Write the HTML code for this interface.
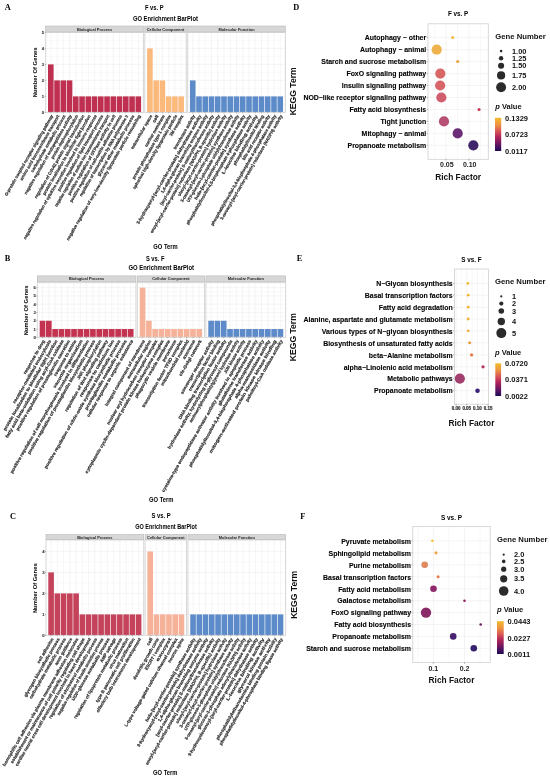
<!DOCTYPE html>
<html><head><meta charset="utf-8"><style>
html,body{margin:0;padding:0;background:#fff;}
svg{display:block;-webkit-font-smoothing:antialiased;will-change:transform;font-family:"Liberation Sans", sans-serif;}
</style></head><body>
<svg width="550" height="779" viewBox="0 0 550 779">
<defs><linearGradient id="cg" x1="0" y1="0" x2="0" y2="1">
<stop offset="0" stop-color="#f3ba2c"/><stop offset="0.2" stop-color="#ee9640"/><stop offset="0.4" stop-color="#d85656"/>
<stop offset="0.56" stop-color="#b6285a"/><stop offset="0.72" stop-color="#82185f"/><stop offset="0.86" stop-color="#4c1262"/><stop offset="1" stop-color="#1e0a52"/>
</linearGradient></defs>
<rect width="550" height="779" fill="#fff"/>
<text x="4.80" y="10.30" font-size="8.3" text-anchor="start" font-weight="bold" fill="#000" font-family='Liberation Serif, serif'>A</text>
<text x="154.20" y="9.60" font-size="6.6" text-anchor="middle" font-weight="bold" fill="#000" textLength="18.60" lengthAdjust="spacingAndGlyphs">F vs. P</text>
<text x="165.40" y="20.90" font-size="6.6" text-anchor="middle" font-weight="bold" fill="#000" textLength="65.00" lengthAdjust="spacingAndGlyphs">GO Enrichment BarPlot</text>
<rect x="45.70" y="32.30" width="97.70" height="80.10" fill="#fff"/>
<line x1="45.70" x2="143.40" y1="104.40" y2="104.40" stroke="#f5f5f5" stroke-width="0.5"/>
<line x1="45.70" x2="143.40" y1="96.40" y2="96.40" stroke="#ebebeb" stroke-width="0.5"/>
<line x1="45.70" x2="143.40" y1="88.40" y2="88.40" stroke="#f5f5f5" stroke-width="0.5"/>
<line x1="45.70" x2="143.40" y1="80.40" y2="80.40" stroke="#ebebeb" stroke-width="0.5"/>
<line x1="45.70" x2="143.40" y1="72.40" y2="72.40" stroke="#f5f5f5" stroke-width="0.5"/>
<line x1="45.70" x2="143.40" y1="64.40" y2="64.40" stroke="#ebebeb" stroke-width="0.5"/>
<line x1="45.70" x2="143.40" y1="56.40" y2="56.40" stroke="#f5f5f5" stroke-width="0.5"/>
<line x1="45.70" x2="143.40" y1="48.40" y2="48.40" stroke="#ebebeb" stroke-width="0.5"/>
<line x1="45.70" x2="143.40" y1="40.40" y2="40.40" stroke="#f5f5f5" stroke-width="0.5"/>
<line x1="45.70" x2="143.40" y1="32.40" y2="32.40" stroke="#ebebeb" stroke-width="0.5"/>
<line x1="50.80" x2="50.80" y1="32.30" y2="112.40" stroke="#ebebeb" stroke-width="0.5"/>
<line x1="57.05" x2="57.05" y1="32.30" y2="112.40" stroke="#ebebeb" stroke-width="0.5"/>
<line x1="63.30" x2="63.30" y1="32.30" y2="112.40" stroke="#ebebeb" stroke-width="0.5"/>
<line x1="69.55" x2="69.55" y1="32.30" y2="112.40" stroke="#ebebeb" stroke-width="0.5"/>
<line x1="75.80" x2="75.80" y1="32.30" y2="112.40" stroke="#ebebeb" stroke-width="0.5"/>
<line x1="82.05" x2="82.05" y1="32.30" y2="112.40" stroke="#ebebeb" stroke-width="0.5"/>
<line x1="88.30" x2="88.30" y1="32.30" y2="112.40" stroke="#ebebeb" stroke-width="0.5"/>
<line x1="94.55" x2="94.55" y1="32.30" y2="112.40" stroke="#ebebeb" stroke-width="0.5"/>
<line x1="100.80" x2="100.80" y1="32.30" y2="112.40" stroke="#ebebeb" stroke-width="0.5"/>
<line x1="107.05" x2="107.05" y1="32.30" y2="112.40" stroke="#ebebeb" stroke-width="0.5"/>
<line x1="113.30" x2="113.30" y1="32.30" y2="112.40" stroke="#ebebeb" stroke-width="0.5"/>
<line x1="119.55" x2="119.55" y1="32.30" y2="112.40" stroke="#ebebeb" stroke-width="0.5"/>
<line x1="125.80" x2="125.80" y1="32.30" y2="112.40" stroke="#ebebeb" stroke-width="0.5"/>
<line x1="132.05" x2="132.05" y1="32.30" y2="112.40" stroke="#ebebeb" stroke-width="0.5"/>
<line x1="138.30" x2="138.30" y1="32.30" y2="112.40" stroke="#ebebeb" stroke-width="0.5"/>
<rect x="48.00" y="64.40" width="5.60" height="48.00" fill="#bf2f4f"/>
<rect x="54.25" y="80.40" width="5.60" height="32.00" fill="#bf2f4f"/>
<rect x="60.50" y="80.40" width="5.60" height="32.00" fill="#bf2f4f"/>
<rect x="66.75" y="80.40" width="5.60" height="32.00" fill="#bf2f4f"/>
<rect x="73.00" y="96.40" width="5.60" height="16.00" fill="#bf2f4f"/>
<rect x="79.25" y="96.40" width="5.60" height="16.00" fill="#bf2f4f"/>
<rect x="85.50" y="96.40" width="5.60" height="16.00" fill="#bf2f4f"/>
<rect x="91.75" y="96.40" width="5.60" height="16.00" fill="#bf2f4f"/>
<rect x="98.00" y="96.40" width="5.60" height="16.00" fill="#bf2f4f"/>
<rect x="104.25" y="96.40" width="5.60" height="16.00" fill="#bf2f4f"/>
<rect x="110.50" y="96.40" width="5.60" height="16.00" fill="#bf2f4f"/>
<rect x="116.75" y="96.40" width="5.60" height="16.00" fill="#bf2f4f"/>
<rect x="123.00" y="96.40" width="5.60" height="16.00" fill="#bf2f4f"/>
<rect x="129.25" y="96.40" width="5.60" height="16.00" fill="#bf2f4f"/>
<rect x="135.50" y="96.40" width="5.60" height="16.00" fill="#bf2f4f"/>
<rect x="45.70" y="32.30" width="97.70" height="80.10" fill="none" stroke="#d6d6d6" stroke-width="1.0"/>
<rect x="45.70" y="26.00" width="97.70" height="6.00" fill="#d7d7d7" stroke="#b8b8b8" stroke-width="0.6"/>
<text x="94.55" y="30.55" font-size="4.2" text-anchor="middle" font-weight="bold" fill="#222" textLength="35.34" lengthAdjust="spacingAndGlyphs">Biological Process</text>
<line x1="50.80" x2="50.80" y1="112.40" y2="113.40" stroke="#444" stroke-width="0.4"/>
<text x="53.30" y="116.00" font-size="4.27" text-anchor="end" font-weight="bold" fill="#333" textLength="92.70" lengthAdjust="spacingAndGlyphs" transform="rotate(-60 53.30 116.00)" stroke="#333" stroke-width="0.22">G-protein coupled receptor signaling pathway</text>
<line x1="57.05" x2="57.05" y1="112.40" y2="113.40" stroke="#444" stroke-width="0.4"/>
<text x="59.55" y="116.00" font-size="4.27" text-anchor="end" font-weight="bold" fill="#333" textLength="74.80" lengthAdjust="spacingAndGlyphs" transform="rotate(-60 59.55 116.00)" stroke="#333" stroke-width="0.22">amino acid transmembrane transport</text>
<line x1="63.30" x2="63.30" y1="112.40" y2="113.40" stroke="#444" stroke-width="0.4"/>
<text x="65.80" y="116.00" font-size="4.27" text-anchor="end" font-weight="bold" fill="#333" textLength="65.40" lengthAdjust="spacingAndGlyphs" transform="rotate(-60 65.80 116.00)" stroke="#333" stroke-width="0.22">carbohydrate metabolic process</text>
<line x1="69.55" x2="69.55" y1="112.40" y2="113.40" stroke="#444" stroke-width="0.4"/>
<text x="72.05" y="116.00" font-size="4.27" text-anchor="end" font-weight="bold" fill="#333" textLength="90.90" lengthAdjust="spacingAndGlyphs" transform="rotate(-60 72.05 116.00)" stroke="#333" stroke-width="0.22">negative regulation of endopeptidase activity</text>
<line x1="75.80" x2="75.80" y1="112.40" y2="113.40" stroke="#444" stroke-width="0.4"/>
<text x="78.30" y="116.00" font-size="4.27" text-anchor="end" font-weight="bold" fill="#333" textLength="50.00" lengthAdjust="spacingAndGlyphs" transform="rotate(-60 78.30 116.00)" stroke="#333" stroke-width="0.22">protein dephosphorylation</text>
<line x1="82.05" x2="82.05" y1="112.40" y2="113.40" stroke="#444" stroke-width="0.4"/>
<text x="84.55" y="116.00" font-size="4.27" text-anchor="end" font-weight="bold" fill="#333" textLength="95.60" lengthAdjust="spacingAndGlyphs" transform="rotate(-60 84.55 116.00)" stroke="#333" stroke-width="0.22">regulation of Cdc42 protein signal transduction</text>
<line x1="88.30" x2="88.30" y1="112.40" y2="113.40" stroke="#444" stroke-width="0.4"/>
<text x="90.80" y="116.00" font-size="4.27" text-anchor="end" font-weight="bold" fill="#333" textLength="91.80" lengthAdjust="spacingAndGlyphs" transform="rotate(-60 90.80 116.00)" stroke="#333" stroke-width="0.22">protein localization to bicellular tight junction</text>
<line x1="94.55" x2="94.55" y1="112.40" y2="113.40" stroke="#444" stroke-width="0.4"/>
<text x="97.05" y="116.00" font-size="4.27" text-anchor="end" font-weight="bold" fill="#333" textLength="142.80" lengthAdjust="spacingAndGlyphs" transform="rotate(-60 97.05 116.00)" stroke="#333" stroke-width="0.22">negative regulation of cytokine secretion involved in immune response</text>
<line x1="100.80" x2="100.80" y1="112.40" y2="113.40" stroke="#444" stroke-width="0.4"/>
<text x="103.30" y="116.00" font-size="4.27" text-anchor="end" font-weight="bold" fill="#333" textLength="87.20" lengthAdjust="spacingAndGlyphs" transform="rotate(-60 103.30 116.00)" stroke="#333" stroke-width="0.22">positive regulation of lipid transport process</text>
<line x1="107.05" x2="107.05" y1="112.40" y2="113.40" stroke="#444" stroke-width="0.4"/>
<text x="109.55" y="116.00" font-size="4.27" text-anchor="end" font-weight="bold" fill="#333" textLength="105.20" lengthAdjust="spacingAndGlyphs" transform="rotate(-60 109.55 116.00)" stroke="#333" stroke-width="0.22">negative regulation of sodium ion transmembrane transport</text>
<line x1="113.30" x2="113.30" y1="112.40" y2="113.40" stroke="#444" stroke-width="0.4"/>
<text x="115.80" y="116.00" font-size="4.27" text-anchor="end" font-weight="bold" fill="#333" textLength="91.80" lengthAdjust="spacingAndGlyphs" transform="rotate(-60 115.80 116.00)" stroke="#333" stroke-width="0.22">positive regulation of GTPase activity in cell</text>
<line x1="119.55" x2="119.55" y1="112.40" y2="113.40" stroke="#444" stroke-width="0.4"/>
<text x="122.05" y="116.00" font-size="4.27" text-anchor="end" font-weight="bold" fill="#333" textLength="100.00" lengthAdjust="spacingAndGlyphs" transform="rotate(-60 122.05 116.00)" stroke="#333" stroke-width="0.22">positive regulation of cell-matrix adhesion process</text>
<line x1="125.80" x2="125.80" y1="112.40" y2="113.40" stroke="#444" stroke-width="0.4"/>
<text x="128.30" y="116.00" font-size="4.27" text-anchor="end" font-weight="bold" fill="#333" textLength="93.30" lengthAdjust="spacingAndGlyphs" transform="rotate(-60 128.30 116.00)" stroke="#333" stroke-width="0.22">regulation of transcription by RNA polymerase II</text>
<line x1="132.05" x2="132.05" y1="112.40" y2="113.40" stroke="#444" stroke-width="0.4"/>
<text x="134.55" y="116.00" font-size="4.27" text-anchor="end" font-weight="bold" fill="#333" textLength="69.90" lengthAdjust="spacingAndGlyphs" transform="rotate(-60 134.55 116.00)" stroke="#333" stroke-width="0.22">glycerol ether metabolic process</text>
<line x1="138.30" x2="138.30" y1="112.40" y2="113.40" stroke="#444" stroke-width="0.4"/>
<text x="140.80" y="116.00" font-size="4.27" text-anchor="end" font-weight="bold" fill="#333" textLength="144.00" lengthAdjust="spacingAndGlyphs" transform="rotate(-60 140.80 116.00)" stroke="#333" stroke-width="0.22">negative regulation of very-low-density lipoprotein particle remodeling</text>
<rect x="144.80" y="32.30" width="41.45" height="80.10" fill="#fff"/>
<line x1="144.80" x2="186.25" y1="104.40" y2="104.40" stroke="#f5f5f5" stroke-width="0.5"/>
<line x1="144.80" x2="186.25" y1="96.40" y2="96.40" stroke="#ebebeb" stroke-width="0.5"/>
<line x1="144.80" x2="186.25" y1="88.40" y2="88.40" stroke="#f5f5f5" stroke-width="0.5"/>
<line x1="144.80" x2="186.25" y1="80.40" y2="80.40" stroke="#ebebeb" stroke-width="0.5"/>
<line x1="144.80" x2="186.25" y1="72.40" y2="72.40" stroke="#f5f5f5" stroke-width="0.5"/>
<line x1="144.80" x2="186.25" y1="64.40" y2="64.40" stroke="#ebebeb" stroke-width="0.5"/>
<line x1="144.80" x2="186.25" y1="56.40" y2="56.40" stroke="#f5f5f5" stroke-width="0.5"/>
<line x1="144.80" x2="186.25" y1="48.40" y2="48.40" stroke="#ebebeb" stroke-width="0.5"/>
<line x1="144.80" x2="186.25" y1="40.40" y2="40.40" stroke="#f5f5f5" stroke-width="0.5"/>
<line x1="144.80" x2="186.25" y1="32.40" y2="32.40" stroke="#ebebeb" stroke-width="0.5"/>
<line x1="149.90" x2="149.90" y1="32.30" y2="112.40" stroke="#ebebeb" stroke-width="0.5"/>
<line x1="156.15" x2="156.15" y1="32.30" y2="112.40" stroke="#ebebeb" stroke-width="0.5"/>
<line x1="162.40" x2="162.40" y1="32.30" y2="112.40" stroke="#ebebeb" stroke-width="0.5"/>
<line x1="168.65" x2="168.65" y1="32.30" y2="112.40" stroke="#ebebeb" stroke-width="0.5"/>
<line x1="174.90" x2="174.90" y1="32.30" y2="112.40" stroke="#ebebeb" stroke-width="0.5"/>
<line x1="181.15" x2="181.15" y1="32.30" y2="112.40" stroke="#ebebeb" stroke-width="0.5"/>
<rect x="147.10" y="48.40" width="5.60" height="64.00" fill="#fcb97c"/>
<rect x="153.35" y="80.40" width="5.60" height="32.00" fill="#fcb97c"/>
<rect x="159.60" y="80.40" width="5.60" height="32.00" fill="#fcb97c"/>
<rect x="165.85" y="96.40" width="5.60" height="16.00" fill="#fcb97c"/>
<rect x="172.10" y="96.40" width="5.60" height="16.00" fill="#fcb97c"/>
<rect x="178.35" y="96.40" width="5.60" height="16.00" fill="#fcb97c"/>
<rect x="144.80" y="32.30" width="41.45" height="80.10" fill="none" stroke="#d6d6d6" stroke-width="1.0"/>
<rect x="144.80" y="26.00" width="41.45" height="6.00" fill="#d7d7d7" stroke="#b8b8b8" stroke-width="0.6"/>
<text x="165.53" y="30.55" font-size="4.2" text-anchor="middle" font-weight="bold" fill="#222" textLength="37.52" lengthAdjust="spacingAndGlyphs">Cellular Component</text>
<line x1="149.90" x2="149.90" y1="112.40" y2="113.40" stroke="#444" stroke-width="0.4"/>
<text x="152.40" y="116.00" font-size="4.27" text-anchor="end" font-weight="bold" fill="#333" textLength="38.70" lengthAdjust="spacingAndGlyphs" transform="rotate(-60 152.40 116.00)" stroke="#333" stroke-width="0.22">extracellular space</text>
<line x1="156.15" x2="156.15" y1="112.40" y2="113.40" stroke="#444" stroke-width="0.4"/>
<text x="158.65" y="116.00" font-size="4.27" text-anchor="end" font-weight="bold" fill="#333" textLength="8.00" lengthAdjust="spacingAndGlyphs" transform="rotate(-60 158.65 116.00)" stroke="#333" stroke-width="0.22">cell</text>
<line x1="162.40" x2="162.40" y1="112.40" y2="113.40" stroke="#444" stroke-width="0.4"/>
<text x="164.90" y="116.00" font-size="4.27" text-anchor="end" font-weight="bold" fill="#333" textLength="36.00" lengthAdjust="spacingAndGlyphs" transform="rotate(-60 164.90 116.00)" stroke="#333" stroke-width="0.22">nuclear membrane</text>
<line x1="168.65" x2="168.65" y1="112.40" y2="113.40" stroke="#444" stroke-width="0.4"/>
<text x="171.15" y="116.00" font-size="4.27" text-anchor="end" font-weight="bold" fill="#333" textLength="73.30" lengthAdjust="spacingAndGlyphs" transform="rotate(-60 171.15 116.00)" stroke="#333" stroke-width="0.22">protein phosphatase type 1 complex</text>
<line x1="174.90" x2="174.90" y1="112.40" y2="113.40" stroke="#444" stroke-width="0.4"/>
<text x="177.40" y="116.00" font-size="4.27" text-anchor="end" font-weight="bold" fill="#333" textLength="84.90" lengthAdjust="spacingAndGlyphs" transform="rotate(-60 177.40 116.00)" stroke="#333" stroke-width="0.22">spherical high-density lipoprotein particle</text>
<line x1="181.15" x2="181.15" y1="112.40" y2="113.40" stroke="#444" stroke-width="0.4"/>
<text x="183.65" y="116.00" font-size="4.27" text-anchor="end" font-weight="bold" fill="#333" textLength="23.70" lengthAdjust="spacingAndGlyphs" transform="rotate(-60 183.65 116.00)" stroke="#333" stroke-width="0.22">3M complex</text>
<rect x="187.65" y="32.30" width="97.70" height="80.10" fill="#fff"/>
<line x1="187.65" x2="285.35" y1="104.40" y2="104.40" stroke="#f5f5f5" stroke-width="0.5"/>
<line x1="187.65" x2="285.35" y1="96.40" y2="96.40" stroke="#ebebeb" stroke-width="0.5"/>
<line x1="187.65" x2="285.35" y1="88.40" y2="88.40" stroke="#f5f5f5" stroke-width="0.5"/>
<line x1="187.65" x2="285.35" y1="80.40" y2="80.40" stroke="#ebebeb" stroke-width="0.5"/>
<line x1="187.65" x2="285.35" y1="72.40" y2="72.40" stroke="#f5f5f5" stroke-width="0.5"/>
<line x1="187.65" x2="285.35" y1="64.40" y2="64.40" stroke="#ebebeb" stroke-width="0.5"/>
<line x1="187.65" x2="285.35" y1="56.40" y2="56.40" stroke="#f5f5f5" stroke-width="0.5"/>
<line x1="187.65" x2="285.35" y1="48.40" y2="48.40" stroke="#ebebeb" stroke-width="0.5"/>
<line x1="187.65" x2="285.35" y1="40.40" y2="40.40" stroke="#f5f5f5" stroke-width="0.5"/>
<line x1="187.65" x2="285.35" y1="32.40" y2="32.40" stroke="#ebebeb" stroke-width="0.5"/>
<line x1="192.75" x2="192.75" y1="32.30" y2="112.40" stroke="#ebebeb" stroke-width="0.5"/>
<line x1="199.00" x2="199.00" y1="32.30" y2="112.40" stroke="#ebebeb" stroke-width="0.5"/>
<line x1="205.25" x2="205.25" y1="32.30" y2="112.40" stroke="#ebebeb" stroke-width="0.5"/>
<line x1="211.50" x2="211.50" y1="32.30" y2="112.40" stroke="#ebebeb" stroke-width="0.5"/>
<line x1="217.75" x2="217.75" y1="32.30" y2="112.40" stroke="#ebebeb" stroke-width="0.5"/>
<line x1="224.00" x2="224.00" y1="32.30" y2="112.40" stroke="#ebebeb" stroke-width="0.5"/>
<line x1="230.25" x2="230.25" y1="32.30" y2="112.40" stroke="#ebebeb" stroke-width="0.5"/>
<line x1="236.50" x2="236.50" y1="32.30" y2="112.40" stroke="#ebebeb" stroke-width="0.5"/>
<line x1="242.75" x2="242.75" y1="32.30" y2="112.40" stroke="#ebebeb" stroke-width="0.5"/>
<line x1="249.00" x2="249.00" y1="32.30" y2="112.40" stroke="#ebebeb" stroke-width="0.5"/>
<line x1="255.25" x2="255.25" y1="32.30" y2="112.40" stroke="#ebebeb" stroke-width="0.5"/>
<line x1="261.50" x2="261.50" y1="32.30" y2="112.40" stroke="#ebebeb" stroke-width="0.5"/>
<line x1="267.75" x2="267.75" y1="32.30" y2="112.40" stroke="#ebebeb" stroke-width="0.5"/>
<line x1="274.00" x2="274.00" y1="32.30" y2="112.40" stroke="#ebebeb" stroke-width="0.5"/>
<line x1="280.25" x2="280.25" y1="32.30" y2="112.40" stroke="#ebebeb" stroke-width="0.5"/>
<rect x="189.95" y="80.40" width="5.60" height="32.00" fill="#5d8bc9"/>
<rect x="196.20" y="96.40" width="5.60" height="16.00" fill="#5d8bc9"/>
<rect x="202.45" y="96.40" width="5.60" height="16.00" fill="#5d8bc9"/>
<rect x="208.70" y="96.40" width="5.60" height="16.00" fill="#5d8bc9"/>
<rect x="214.95" y="96.40" width="5.60" height="16.00" fill="#5d8bc9"/>
<rect x="221.20" y="96.40" width="5.60" height="16.00" fill="#5d8bc9"/>
<rect x="227.45" y="96.40" width="5.60" height="16.00" fill="#5d8bc9"/>
<rect x="233.70" y="96.40" width="5.60" height="16.00" fill="#5d8bc9"/>
<rect x="239.95" y="96.40" width="5.60" height="16.00" fill="#5d8bc9"/>
<rect x="246.20" y="96.40" width="5.60" height="16.00" fill="#5d8bc9"/>
<rect x="252.45" y="96.40" width="5.60" height="16.00" fill="#5d8bc9"/>
<rect x="258.70" y="96.40" width="5.60" height="16.00" fill="#5d8bc9"/>
<rect x="264.95" y="96.40" width="5.60" height="16.00" fill="#5d8bc9"/>
<rect x="271.20" y="96.40" width="5.60" height="16.00" fill="#5d8bc9"/>
<rect x="277.45" y="96.40" width="5.60" height="16.00" fill="#5d8bc9"/>
<rect x="187.65" y="32.30" width="97.70" height="80.10" fill="none" stroke="#d6d6d6" stroke-width="1.0"/>
<rect x="187.65" y="26.00" width="97.70" height="6.00" fill="#d7d7d7" stroke="#b8b8b8" stroke-width="0.6"/>
<text x="236.50" y="30.55" font-size="4.2" text-anchor="middle" font-weight="bold" fill="#222" textLength="36.21" lengthAdjust="spacingAndGlyphs">Molecular Function</text>
<line x1="192.75" x2="192.75" y1="112.40" y2="113.40" stroke="#444" stroke-width="0.4"/>
<text x="195.25" y="116.00" font-size="4.27" text-anchor="end" font-weight="bold" fill="#333" textLength="38.90" lengthAdjust="spacingAndGlyphs" transform="rotate(-60 195.25 116.00)" stroke="#333" stroke-width="0.22">transferase activity</text>
<line x1="199.00" x2="199.00" y1="112.40" y2="113.40" stroke="#444" stroke-width="0.4"/>
<text x="201.50" y="116.00" font-size="4.27" text-anchor="end" font-weight="bold" fill="#333" textLength="125.30" lengthAdjust="spacingAndGlyphs" transform="rotate(-60 201.50 116.00)" stroke="#333" stroke-width="0.22">3-hydroxyacyl-[acyl-carrier-protein] dehydratase activity</text>
<line x1="205.25" x2="205.25" y1="112.40" y2="113.40" stroke="#444" stroke-width="0.4"/>
<text x="207.75" y="116.00" font-size="4.27" text-anchor="end" font-weight="bold" fill="#333" textLength="89.50" lengthAdjust="spacingAndGlyphs" transform="rotate(-60 207.75 116.00)" stroke="#333" stroke-width="0.22">1,4-alpha-glucan branching enzyme activity</text>
<line x1="211.50" x2="211.50" y1="112.40" y2="113.40" stroke="#444" stroke-width="0.4"/>
<text x="214.00" y="116.00" font-size="4.27" text-anchor="end" font-weight="bold" fill="#333" textLength="103.40" lengthAdjust="spacingAndGlyphs" transform="rotate(-60 214.00 116.00)" stroke="#333" stroke-width="0.22">[acyl-carrier-protein] S-malonyltransferase activity</text>
<line x1="217.75" x2="217.75" y1="112.40" y2="113.40" stroke="#444" stroke-width="0.4"/>
<text x="220.25" y="116.00" font-size="4.27" text-anchor="end" font-weight="bold" fill="#333" textLength="135.70" lengthAdjust="spacingAndGlyphs" transform="rotate(-60 220.25 116.00)" stroke="#333" stroke-width="0.22">enoyl-[acyl-carrier-protein] reductase (NADPH, B-specific) activity</text>
<line x1="224.00" x2="224.00" y1="112.40" y2="113.40" stroke="#444" stroke-width="0.4"/>
<text x="226.50" y="116.00" font-size="4.27" text-anchor="end" font-weight="bold" fill="#333" textLength="93.00" lengthAdjust="spacingAndGlyphs" transform="rotate(-60 226.50 116.00)" stroke="#333" stroke-width="0.22">oleoyl-[acyl-carrier-protein] hydrolase activity</text>
<line x1="230.25" x2="230.25" y1="112.40" y2="113.40" stroke="#444" stroke-width="0.4"/>
<text x="232.75" y="116.00" font-size="4.27" text-anchor="end" font-weight="bold" fill="#333" textLength="100.00" lengthAdjust="spacingAndGlyphs" transform="rotate(-60 232.75 116.00)" stroke="#333" stroke-width="0.22">3-oxoacyl-[acyl-carrier-protein] synthase activity</text>
<line x1="236.50" x2="236.50" y1="112.40" y2="113.40" stroke="#444" stroke-width="0.4"/>
<text x="239.00" y="116.00" font-size="4.27" text-anchor="end" font-weight="bold" fill="#333" textLength="100.00" lengthAdjust="spacingAndGlyphs" transform="rotate(-60 239.00 116.00)" stroke="#333" stroke-width="0.22">UTP-glucose-1-phosphate uridylyltransferase activity</text>
<line x1="242.75" x2="242.75" y1="112.40" y2="113.40" stroke="#444" stroke-width="0.4"/>
<text x="245.25" y="116.00" font-size="4.27" text-anchor="end" font-weight="bold" fill="#333" textLength="97.00" lengthAdjust="spacingAndGlyphs" transform="rotate(-60 245.25 116.00)" stroke="#333" stroke-width="0.22">holo-[acyl-carrier-protein] synthase activity</text>
<line x1="249.00" x2="249.00" y1="112.40" y2="113.40" stroke="#444" stroke-width="0.4"/>
<text x="251.50" y="116.00" font-size="4.27" text-anchor="end" font-weight="bold" fill="#333" textLength="125.90" lengthAdjust="spacingAndGlyphs" transform="rotate(-60 251.50 116.00)" stroke="#333" stroke-width="0.22">phosphatidylinositol-4,5-bisphosphate 4-phosphatase activity</text>
<line x1="255.25" x2="255.25" y1="112.40" y2="113.40" stroke="#444" stroke-width="0.4"/>
<text x="257.75" y="116.00" font-size="4.27" text-anchor="end" font-weight="bold" fill="#333" textLength="67.50" lengthAdjust="spacingAndGlyphs" transform="rotate(-60 257.75 116.00)" stroke="#333" stroke-width="0.22">L-leucine binding activity</text>
<line x1="261.50" x2="261.50" y1="112.40" y2="113.40" stroke="#444" stroke-width="0.4"/>
<text x="264.00" y="116.00" font-size="4.27" text-anchor="end" font-weight="bold" fill="#333" textLength="57.20" lengthAdjust="spacingAndGlyphs" transform="rotate(-60 264.00 116.00)" stroke="#333" stroke-width="0.22">phosphatidylinositol binding</text>
<line x1="267.75" x2="267.75" y1="112.40" y2="113.40" stroke="#444" stroke-width="0.4"/>
<text x="270.25" y="116.00" font-size="4.27" text-anchor="end" font-weight="bold" fill="#333" textLength="51.50" lengthAdjust="spacingAndGlyphs" transform="rotate(-60 270.25 116.00)" stroke="#333" stroke-width="0.22">bile acid receptor activity</text>
<line x1="274.00" x2="274.00" y1="112.40" y2="113.40" stroke="#444" stroke-width="0.4"/>
<text x="276.50" y="116.00" font-size="4.27" text-anchor="end" font-weight="bold" fill="#333" textLength="127.10" lengthAdjust="spacingAndGlyphs" transform="rotate(-60 276.50 116.00)" stroke="#333" stroke-width="0.22">phosphatidylinositol-3,4-bisphosphate 4-phosphatase activity</text>
<line x1="280.25" x2="280.25" y1="112.40" y2="113.40" stroke="#444" stroke-width="0.4"/>
<text x="282.75" y="116.00" font-size="4.27" text-anchor="end" font-weight="bold" fill="#333" textLength="120.40" lengthAdjust="spacingAndGlyphs" transform="rotate(-60 282.75 116.00)" stroke="#333" stroke-width="0.22">3-oxoacyl-[acyl-carrier-protein] reductase (NADPH) activity</text>
<text x="44.20" y="113.90" font-size="4.2" text-anchor="end" font-weight="bold" fill="#333" stroke="#333" stroke-width="0.1">0</text>
<line x1="44.70" x2="45.70" y1="112.40" y2="112.40" stroke="#444" stroke-width="0.4"/>
<text x="44.20" y="97.90" font-size="4.2" text-anchor="end" font-weight="bold" fill="#333" stroke="#333" stroke-width="0.1">1</text>
<line x1="44.70" x2="45.70" y1="96.40" y2="96.40" stroke="#444" stroke-width="0.4"/>
<text x="44.20" y="81.90" font-size="4.2" text-anchor="end" font-weight="bold" fill="#333" stroke="#333" stroke-width="0.1">2</text>
<line x1="44.70" x2="45.70" y1="80.40" y2="80.40" stroke="#444" stroke-width="0.4"/>
<text x="44.20" y="65.90" font-size="4.2" text-anchor="end" font-weight="bold" fill="#333" stroke="#333" stroke-width="0.1">3</text>
<line x1="44.70" x2="45.70" y1="64.40" y2="64.40" stroke="#444" stroke-width="0.4"/>
<text x="44.20" y="49.90" font-size="4.2" text-anchor="end" font-weight="bold" fill="#333" stroke="#333" stroke-width="0.1">4</text>
<line x1="44.70" x2="45.70" y1="48.40" y2="48.40" stroke="#444" stroke-width="0.4"/>
<text x="44.20" y="33.90" font-size="4.2" text-anchor="end" font-weight="bold" fill="#333" stroke="#333" stroke-width="0.1">5</text>
<line x1="44.70" x2="45.70" y1="32.40" y2="32.40" stroke="#444" stroke-width="0.4"/>
<text x="37.40" y="72.40" font-size="5.86" text-anchor="middle" font-weight="bold" fill="#000" transform="rotate(-90 37.40 72.40)">Number Of Genes</text>
<text x="165.50" y="249.00" font-size="6.6" text-anchor="middle" font-weight="bold" fill="#000" textLength="24.40" lengthAdjust="spacingAndGlyphs">GO Term</text>
<text x="4.80" y="260.80" font-size="8.3" text-anchor="start" font-weight="bold" fill="#000" font-family='Liberation Serif, serif'>B</text>
<text x="155.20" y="261.20" font-size="6.6" text-anchor="middle" font-weight="bold" fill="#000" textLength="18.50" lengthAdjust="spacingAndGlyphs">S vs. F</text>
<text x="161.30" y="270.30" font-size="6.6" text-anchor="middle" font-weight="bold" fill="#000" textLength="65.50" lengthAdjust="spacingAndGlyphs">GO Enrichment BarPlot</text>
<rect x="37.30" y="282.20" width="98.65" height="55.10" fill="#fff"/>
<line x1="37.30" x2="135.95" y1="333.17" y2="333.17" stroke="#f5f5f5" stroke-width="0.5"/>
<line x1="37.30" x2="135.95" y1="329.03" y2="329.03" stroke="#ebebeb" stroke-width="0.5"/>
<line x1="37.30" x2="135.95" y1="324.90" y2="324.90" stroke="#f5f5f5" stroke-width="0.5"/>
<line x1="37.30" x2="135.95" y1="320.76" y2="320.76" stroke="#ebebeb" stroke-width="0.5"/>
<line x1="37.30" x2="135.95" y1="316.62" y2="316.62" stroke="#f5f5f5" stroke-width="0.5"/>
<line x1="37.30" x2="135.95" y1="312.49" y2="312.49" stroke="#ebebeb" stroke-width="0.5"/>
<line x1="37.30" x2="135.95" y1="308.36" y2="308.36" stroke="#f5f5f5" stroke-width="0.5"/>
<line x1="37.30" x2="135.95" y1="304.22" y2="304.22" stroke="#ebebeb" stroke-width="0.5"/>
<line x1="37.30" x2="135.95" y1="300.09" y2="300.09" stroke="#f5f5f5" stroke-width="0.5"/>
<line x1="37.30" x2="135.95" y1="295.95" y2="295.95" stroke="#ebebeb" stroke-width="0.5"/>
<line x1="37.30" x2="135.95" y1="291.81" y2="291.81" stroke="#f5f5f5" stroke-width="0.5"/>
<line x1="37.30" x2="135.95" y1="287.68" y2="287.68" stroke="#ebebeb" stroke-width="0.5"/>
<line x1="37.30" x2="135.95" y1="283.55" y2="283.55" stroke="#f5f5f5" stroke-width="0.5"/>
<line x1="42.52" x2="42.52" y1="282.20" y2="337.30" stroke="#ebebeb" stroke-width="0.5"/>
<line x1="48.82" x2="48.82" y1="282.20" y2="337.30" stroke="#ebebeb" stroke-width="0.5"/>
<line x1="55.12" x2="55.12" y1="282.20" y2="337.30" stroke="#ebebeb" stroke-width="0.5"/>
<line x1="61.42" x2="61.42" y1="282.20" y2="337.30" stroke="#ebebeb" stroke-width="0.5"/>
<line x1="67.72" x2="67.72" y1="282.20" y2="337.30" stroke="#ebebeb" stroke-width="0.5"/>
<line x1="74.03" x2="74.03" y1="282.20" y2="337.30" stroke="#ebebeb" stroke-width="0.5"/>
<line x1="80.32" x2="80.32" y1="282.20" y2="337.30" stroke="#ebebeb" stroke-width="0.5"/>
<line x1="86.62" x2="86.62" y1="282.20" y2="337.30" stroke="#ebebeb" stroke-width="0.5"/>
<line x1="92.92" x2="92.92" y1="282.20" y2="337.30" stroke="#ebebeb" stroke-width="0.5"/>
<line x1="99.22" x2="99.22" y1="282.20" y2="337.30" stroke="#ebebeb" stroke-width="0.5"/>
<line x1="105.53" x2="105.53" y1="282.20" y2="337.30" stroke="#ebebeb" stroke-width="0.5"/>
<line x1="111.82" x2="111.82" y1="282.20" y2="337.30" stroke="#ebebeb" stroke-width="0.5"/>
<line x1="118.12" x2="118.12" y1="282.20" y2="337.30" stroke="#ebebeb" stroke-width="0.5"/>
<line x1="124.42" x2="124.42" y1="282.20" y2="337.30" stroke="#ebebeb" stroke-width="0.5"/>
<line x1="130.72" x2="130.72" y1="282.20" y2="337.30" stroke="#ebebeb" stroke-width="0.5"/>
<rect x="39.70" y="320.76" width="5.65" height="16.54" fill="#c43350"/>
<rect x="46.00" y="320.76" width="5.65" height="16.54" fill="#c43350"/>
<rect x="52.30" y="329.03" width="5.65" height="8.27" fill="#c43350"/>
<rect x="58.60" y="329.03" width="5.65" height="8.27" fill="#c43350"/>
<rect x="64.90" y="329.03" width="5.65" height="8.27" fill="#c43350"/>
<rect x="71.20" y="329.03" width="5.65" height="8.27" fill="#c43350"/>
<rect x="77.50" y="329.03" width="5.65" height="8.27" fill="#c43350"/>
<rect x="83.80" y="329.03" width="5.65" height="8.27" fill="#c43350"/>
<rect x="90.10" y="329.03" width="5.65" height="8.27" fill="#c43350"/>
<rect x="96.40" y="329.03" width="5.65" height="8.27" fill="#c43350"/>
<rect x="102.70" y="329.03" width="5.65" height="8.27" fill="#c43350"/>
<rect x="109.00" y="329.03" width="5.65" height="8.27" fill="#c43350"/>
<rect x="115.30" y="329.03" width="5.65" height="8.27" fill="#c43350"/>
<rect x="121.60" y="329.03" width="5.65" height="8.27" fill="#c43350"/>
<rect x="127.90" y="329.03" width="5.65" height="8.27" fill="#c43350"/>
<rect x="37.30" y="282.20" width="98.65" height="55.10" fill="none" stroke="#d6d6d6" stroke-width="1.0"/>
<rect x="37.30" y="275.90" width="98.65" height="6.00" fill="#d7d7d7" stroke="#b8b8b8" stroke-width="0.6"/>
<text x="86.62" y="280.45" font-size="4.2" text-anchor="middle" font-weight="bold" fill="#222" textLength="35.34" lengthAdjust="spacingAndGlyphs">Biological Process</text>
<line x1="42.52" x2="42.52" y1="337.30" y2="338.30" stroke="#444" stroke-width="0.4"/>
<text x="45.02" y="340.90" font-size="4.27" text-anchor="end" font-weight="bold" fill="#333" textLength="38.90" lengthAdjust="spacingAndGlyphs" transform="rotate(-60 45.02 340.90)" stroke="#333" stroke-width="0.22">response to drug</text>
<line x1="48.82" x2="48.82" y1="337.30" y2="338.30" stroke="#444" stroke-width="0.4"/>
<text x="51.32" y="340.90" font-size="4.27" text-anchor="end" font-weight="bold" fill="#333" textLength="72.50" lengthAdjust="spacingAndGlyphs" transform="rotate(-60 51.32 340.90)" stroke="#333" stroke-width="0.22">receptor-mediated endocytosis</text>
<line x1="55.12" x2="55.12" y1="337.30" y2="338.30" stroke="#444" stroke-width="0.4"/>
<text x="57.62" y="340.90" font-size="4.27" text-anchor="end" font-weight="bold" fill="#333" textLength="104.00" lengthAdjust="spacingAndGlyphs" transform="rotate(-60 57.62 340.90)" stroke="#333" stroke-width="0.22">protein localization to bicellular tight junction</text>
<line x1="61.42" x2="61.42" y1="337.30" y2="338.30" stroke="#444" stroke-width="0.4"/>
<text x="63.92" y="340.90" font-size="4.27" text-anchor="end" font-weight="bold" fill="#333" textLength="112.40" lengthAdjust="spacingAndGlyphs" transform="rotate(-60 63.92 340.90)" stroke="#333" stroke-width="0.22">fatty acid beta-oxidation using acyl-CoA oxidase</text>
<line x1="67.72" x2="67.72" y1="337.30" y2="338.30" stroke="#444" stroke-width="0.4"/>
<text x="70.22" y="340.90" font-size="4.27" text-anchor="end" font-weight="bold" fill="#333" textLength="104.00" lengthAdjust="spacingAndGlyphs" transform="rotate(-60 70.22 340.90)" stroke="#333" stroke-width="0.22">positive regulation of prostaglandin secretion</text>
<line x1="74.03" x2="74.03" y1="337.30" y2="338.30" stroke="#444" stroke-width="0.4"/>
<text x="76.53" y="340.90" font-size="4.27" text-anchor="end" font-weight="bold" fill="#333" textLength="41.00" lengthAdjust="spacingAndGlyphs" transform="rotate(-60 76.53 340.90)" stroke="#333" stroke-width="0.22">response to amine</text>
<line x1="80.32" x2="80.32" y1="337.30" y2="338.30" stroke="#444" stroke-width="0.4"/>
<text x="82.82" y="340.90" font-size="4.27" text-anchor="end" font-weight="bold" fill="#333" textLength="55.00" lengthAdjust="spacingAndGlyphs" transform="rotate(-60 82.82 340.90)" stroke="#333" stroke-width="0.22">vacuole organization</text>
<line x1="86.62" x2="86.62" y1="337.30" y2="338.30" stroke="#444" stroke-width="0.4"/>
<text x="89.12" y="340.90" font-size="4.27" text-anchor="end" font-weight="bold" fill="#333" textLength="153.30" lengthAdjust="spacingAndGlyphs" transform="rotate(-60 89.12 340.90)" stroke="#333" stroke-width="0.22">positive regulation of cell morphogenesis involved in differentiation</text>
<line x1="92.92" x2="92.92" y1="337.30" y2="338.30" stroke="#444" stroke-width="0.4"/>
<text x="95.42" y="340.90" font-size="4.27" text-anchor="end" font-weight="bold" fill="#333" textLength="131.30" lengthAdjust="spacingAndGlyphs" transform="rotate(-60 95.42 340.90)" stroke="#333" stroke-width="0.22">positive regulation of prostaglandin biosynthetic process</text>
<line x1="99.22" x2="99.22" y1="337.30" y2="338.30" stroke="#444" stroke-width="0.4"/>
<text x="101.72" y="340.90" font-size="4.27" text-anchor="end" font-weight="bold" fill="#333" textLength="45.00" lengthAdjust="spacingAndGlyphs" transform="rotate(-60 101.72 340.90)" stroke="#333" stroke-width="0.22">JNK phosphorylation</text>
<line x1="105.53" x2="105.53" y1="337.30" y2="338.30" stroke="#444" stroke-width="0.4"/>
<text x="108.03" y="340.90" font-size="4.27" text-anchor="end" font-weight="bold" fill="#333" textLength="82.00" lengthAdjust="spacingAndGlyphs" transform="rotate(-60 108.03 340.90)" stroke="#333" stroke-width="0.22">regulation of Wnt signaling pathway</text>
<line x1="111.82" x2="111.82" y1="337.30" y2="338.30" stroke="#444" stroke-width="0.4"/>
<text x="114.32" y="340.90" font-size="4.27" text-anchor="end" font-weight="bold" fill="#333" textLength="65.00" lengthAdjust="spacingAndGlyphs" transform="rotate(-60 114.32 340.90)" stroke="#333" stroke-width="0.22">response to cadmium ion</text>
<line x1="118.12" x2="118.12" y1="337.30" y2="338.30" stroke="#444" stroke-width="0.4"/>
<text x="120.62" y="340.90" font-size="4.27" text-anchor="end" font-weight="bold" fill="#333" textLength="148.00" lengthAdjust="spacingAndGlyphs" transform="rotate(-60 120.62 340.90)" stroke="#333" stroke-width="0.22">positive regulation of nitric-oxide synthase biosynthetic process</text>
<line x1="124.42" x2="124.42" y1="337.30" y2="338.30" stroke="#444" stroke-width="0.4"/>
<text x="126.92" y="340.90" font-size="4.27" text-anchor="end" font-weight="bold" fill="#333" textLength="80.00" lengthAdjust="spacingAndGlyphs" transform="rotate(-60 126.92 340.90)" stroke="#333" stroke-width="0.22">prostaglandin metabolic process</text>
<line x1="130.72" x2="130.72" y1="337.30" y2="338.30" stroke="#444" stroke-width="0.4"/>
<text x="133.22" y="340.90" font-size="4.27" text-anchor="end" font-weight="bold" fill="#333" textLength="88.20" lengthAdjust="spacingAndGlyphs" transform="rotate(-60 133.22 340.90)" stroke="#333" stroke-width="0.22">cellular response to organic substance</text>
<rect x="137.35" y="282.20" width="67.15" height="55.10" fill="#fff"/>
<line x1="137.35" x2="204.50" y1="333.17" y2="333.17" stroke="#f5f5f5" stroke-width="0.5"/>
<line x1="137.35" x2="204.50" y1="329.03" y2="329.03" stroke="#ebebeb" stroke-width="0.5"/>
<line x1="137.35" x2="204.50" y1="324.90" y2="324.90" stroke="#f5f5f5" stroke-width="0.5"/>
<line x1="137.35" x2="204.50" y1="320.76" y2="320.76" stroke="#ebebeb" stroke-width="0.5"/>
<line x1="137.35" x2="204.50" y1="316.62" y2="316.62" stroke="#f5f5f5" stroke-width="0.5"/>
<line x1="137.35" x2="204.50" y1="312.49" y2="312.49" stroke="#ebebeb" stroke-width="0.5"/>
<line x1="137.35" x2="204.50" y1="308.36" y2="308.36" stroke="#f5f5f5" stroke-width="0.5"/>
<line x1="137.35" x2="204.50" y1="304.22" y2="304.22" stroke="#ebebeb" stroke-width="0.5"/>
<line x1="137.35" x2="204.50" y1="300.09" y2="300.09" stroke="#f5f5f5" stroke-width="0.5"/>
<line x1="137.35" x2="204.50" y1="295.95" y2="295.95" stroke="#ebebeb" stroke-width="0.5"/>
<line x1="137.35" x2="204.50" y1="291.81" y2="291.81" stroke="#f5f5f5" stroke-width="0.5"/>
<line x1="137.35" x2="204.50" y1="287.68" y2="287.68" stroke="#ebebeb" stroke-width="0.5"/>
<line x1="137.35" x2="204.50" y1="283.55" y2="283.55" stroke="#f5f5f5" stroke-width="0.5"/>
<line x1="142.58" x2="142.58" y1="282.20" y2="337.30" stroke="#ebebeb" stroke-width="0.5"/>
<line x1="148.88" x2="148.88" y1="282.20" y2="337.30" stroke="#ebebeb" stroke-width="0.5"/>
<line x1="155.18" x2="155.18" y1="282.20" y2="337.30" stroke="#ebebeb" stroke-width="0.5"/>
<line x1="161.48" x2="161.48" y1="282.20" y2="337.30" stroke="#ebebeb" stroke-width="0.5"/>
<line x1="167.78" x2="167.78" y1="282.20" y2="337.30" stroke="#ebebeb" stroke-width="0.5"/>
<line x1="174.08" x2="174.08" y1="282.20" y2="337.30" stroke="#ebebeb" stroke-width="0.5"/>
<line x1="180.38" x2="180.38" y1="282.20" y2="337.30" stroke="#ebebeb" stroke-width="0.5"/>
<line x1="186.68" x2="186.68" y1="282.20" y2="337.30" stroke="#ebebeb" stroke-width="0.5"/>
<line x1="192.98" x2="192.98" y1="282.20" y2="337.30" stroke="#ebebeb" stroke-width="0.5"/>
<line x1="199.28" x2="199.28" y1="282.20" y2="337.30" stroke="#ebebeb" stroke-width="0.5"/>
<rect x="139.75" y="287.68" width="5.65" height="49.62" fill="#f6b298"/>
<rect x="146.05" y="320.76" width="5.65" height="16.54" fill="#f6b298"/>
<rect x="152.35" y="329.03" width="5.65" height="8.27" fill="#f6b298"/>
<rect x="158.65" y="329.03" width="5.65" height="8.27" fill="#f6b298"/>
<rect x="164.95" y="329.03" width="5.65" height="8.27" fill="#f6b298"/>
<rect x="171.25" y="329.03" width="5.65" height="8.27" fill="#f6b298"/>
<rect x="177.55" y="329.03" width="5.65" height="8.27" fill="#f6b298"/>
<rect x="183.85" y="329.03" width="5.65" height="8.27" fill="#f6b298"/>
<rect x="190.15" y="329.03" width="5.65" height="8.27" fill="#f6b298"/>
<rect x="196.45" y="329.03" width="5.65" height="8.27" fill="#f6b298"/>
<rect x="137.35" y="282.20" width="67.15" height="55.10" fill="none" stroke="#d6d6d6" stroke-width="1.0"/>
<rect x="137.35" y="275.90" width="67.15" height="6.00" fill="#d7d7d7" stroke="#b8b8b8" stroke-width="0.6"/>
<text x="170.93" y="280.45" font-size="4.2" text-anchor="middle" font-weight="bold" fill="#222" textLength="37.52" lengthAdjust="spacingAndGlyphs">Cellular Component</text>
<line x1="142.58" x2="142.58" y1="337.30" y2="338.30" stroke="#444" stroke-width="0.4"/>
<text x="145.08" y="340.90" font-size="4.27" text-anchor="end" font-weight="bold" fill="#333" textLength="75.60" lengthAdjust="spacingAndGlyphs" transform="rotate(-60 145.08 340.90)" stroke="#333" stroke-width="0.22">integral component of membrane</text>
<line x1="148.88" x2="148.88" y1="337.30" y2="338.30" stroke="#444" stroke-width="0.4"/>
<text x="151.38" y="340.90" font-size="4.27" text-anchor="end" font-weight="bold" fill="#333" textLength="44.10" lengthAdjust="spacingAndGlyphs" transform="rotate(-60 151.38 340.90)" stroke="#333" stroke-width="0.22">extracellular region</text>
<line x1="155.18" x2="155.18" y1="337.30" y2="338.30" stroke="#444" stroke-width="0.4"/>
<text x="157.68" y="340.90" font-size="4.27" text-anchor="end" font-weight="bold" fill="#333" textLength="97.10" lengthAdjust="spacingAndGlyphs" transform="rotate(-60 157.68 340.90)" stroke="#333" stroke-width="0.22">nuclear aryl hydrocarbon receptor complex</text>
<line x1="161.48" x2="161.48" y1="337.30" y2="338.30" stroke="#444" stroke-width="0.4"/>
<text x="163.98" y="340.90" font-size="4.27" text-anchor="end" font-weight="bold" fill="#333" textLength="153.30" lengthAdjust="spacingAndGlyphs" transform="rotate(-60 163.98 340.90)" stroke="#333" stroke-width="0.22">cytoplasmic cyclin-dependent protein kinase holoenzyme complex</text>
<line x1="167.78" x2="167.78" y1="337.30" y2="338.30" stroke="#444" stroke-width="0.4"/>
<text x="170.28" y="340.90" font-size="4.27" text-anchor="end" font-weight="bold" fill="#333" textLength="66.30" lengthAdjust="spacingAndGlyphs" transform="rotate(-60 170.28 340.90)" stroke="#333" stroke-width="0.22">phagocytic vesicle membrane</text>
<line x1="174.08" x2="174.08" y1="337.30" y2="338.30" stroke="#444" stroke-width="0.4"/>
<text x="176.58" y="340.90" font-size="4.27" text-anchor="end" font-weight="bold" fill="#333" textLength="24.50" lengthAdjust="spacingAndGlyphs" transform="rotate(-60 176.58 340.90)" stroke="#333" stroke-width="0.22">peroxisome</text>
<line x1="180.38" x2="180.38" y1="337.30" y2="338.30" stroke="#444" stroke-width="0.4"/>
<text x="182.88" y="340.90" font-size="4.27" text-anchor="end" font-weight="bold" fill="#333" textLength="77.30" lengthAdjust="spacingAndGlyphs" transform="rotate(-60 182.88 340.90)" stroke="#333" stroke-width="0.22">transcription factor TFIID complex</text>
<line x1="186.68" x2="186.68" y1="337.30" y2="338.30" stroke="#444" stroke-width="0.4"/>
<text x="189.18" y="340.90" font-size="4.27" text-anchor="end" font-weight="bold" fill="#333" textLength="52.10" lengthAdjust="spacingAndGlyphs" transform="rotate(-60 189.18 340.90)" stroke="#333" stroke-width="0.22">mitochondrial nucleoid</text>
<line x1="192.98" x2="192.98" y1="337.30" y2="338.30" stroke="#444" stroke-width="0.4"/>
<text x="195.48" y="340.90" font-size="4.27" text-anchor="end" font-weight="bold" fill="#333" textLength="21.40" lengthAdjust="spacingAndGlyphs" transform="rotate(-60 195.48 340.90)" stroke="#333" stroke-width="0.22">axoneme</text>
<line x1="199.28" x2="199.28" y1="337.30" y2="338.30" stroke="#444" stroke-width="0.4"/>
<text x="201.78" y="340.90" font-size="4.27" text-anchor="end" font-weight="bold" fill="#333" textLength="41.00" lengthAdjust="spacingAndGlyphs" transform="rotate(-60 201.78 340.90)" stroke="#333" stroke-width="0.22">cis-Golgi network</text>
<rect x="205.90" y="282.20" width="79.75" height="55.10" fill="#fff"/>
<line x1="205.90" x2="285.65" y1="333.17" y2="333.17" stroke="#f5f5f5" stroke-width="0.5"/>
<line x1="205.90" x2="285.65" y1="329.03" y2="329.03" stroke="#ebebeb" stroke-width="0.5"/>
<line x1="205.90" x2="285.65" y1="324.90" y2="324.90" stroke="#f5f5f5" stroke-width="0.5"/>
<line x1="205.90" x2="285.65" y1="320.76" y2="320.76" stroke="#ebebeb" stroke-width="0.5"/>
<line x1="205.90" x2="285.65" y1="316.62" y2="316.62" stroke="#f5f5f5" stroke-width="0.5"/>
<line x1="205.90" x2="285.65" y1="312.49" y2="312.49" stroke="#ebebeb" stroke-width="0.5"/>
<line x1="205.90" x2="285.65" y1="308.36" y2="308.36" stroke="#f5f5f5" stroke-width="0.5"/>
<line x1="205.90" x2="285.65" y1="304.22" y2="304.22" stroke="#ebebeb" stroke-width="0.5"/>
<line x1="205.90" x2="285.65" y1="300.09" y2="300.09" stroke="#f5f5f5" stroke-width="0.5"/>
<line x1="205.90" x2="285.65" y1="295.95" y2="295.95" stroke="#ebebeb" stroke-width="0.5"/>
<line x1="205.90" x2="285.65" y1="291.81" y2="291.81" stroke="#f5f5f5" stroke-width="0.5"/>
<line x1="205.90" x2="285.65" y1="287.68" y2="287.68" stroke="#ebebeb" stroke-width="0.5"/>
<line x1="205.90" x2="285.65" y1="283.55" y2="283.55" stroke="#f5f5f5" stroke-width="0.5"/>
<line x1="211.13" x2="211.13" y1="282.20" y2="337.30" stroke="#ebebeb" stroke-width="0.5"/>
<line x1="217.43" x2="217.43" y1="282.20" y2="337.30" stroke="#ebebeb" stroke-width="0.5"/>
<line x1="223.73" x2="223.73" y1="282.20" y2="337.30" stroke="#ebebeb" stroke-width="0.5"/>
<line x1="230.03" x2="230.03" y1="282.20" y2="337.30" stroke="#ebebeb" stroke-width="0.5"/>
<line x1="236.33" x2="236.33" y1="282.20" y2="337.30" stroke="#ebebeb" stroke-width="0.5"/>
<line x1="242.63" x2="242.63" y1="282.20" y2="337.30" stroke="#ebebeb" stroke-width="0.5"/>
<line x1="248.93" x2="248.93" y1="282.20" y2="337.30" stroke="#ebebeb" stroke-width="0.5"/>
<line x1="255.23" x2="255.23" y1="282.20" y2="337.30" stroke="#ebebeb" stroke-width="0.5"/>
<line x1="261.53" x2="261.53" y1="282.20" y2="337.30" stroke="#ebebeb" stroke-width="0.5"/>
<line x1="267.83" x2="267.83" y1="282.20" y2="337.30" stroke="#ebebeb" stroke-width="0.5"/>
<line x1="274.12" x2="274.12" y1="282.20" y2="337.30" stroke="#ebebeb" stroke-width="0.5"/>
<line x1="280.43" x2="280.43" y1="282.20" y2="337.30" stroke="#ebebeb" stroke-width="0.5"/>
<rect x="208.30" y="320.76" width="5.65" height="16.54" fill="#5d8bc9"/>
<rect x="214.60" y="320.76" width="5.65" height="16.54" fill="#5d8bc9"/>
<rect x="220.90" y="320.76" width="5.65" height="16.54" fill="#5d8bc9"/>
<rect x="227.20" y="329.03" width="5.65" height="8.27" fill="#5d8bc9"/>
<rect x="233.50" y="329.03" width="5.65" height="8.27" fill="#5d8bc9"/>
<rect x="239.80" y="329.03" width="5.65" height="8.27" fill="#5d8bc9"/>
<rect x="246.10" y="329.03" width="5.65" height="8.27" fill="#5d8bc9"/>
<rect x="252.40" y="329.03" width="5.65" height="8.27" fill="#5d8bc9"/>
<rect x="258.70" y="329.03" width="5.65" height="8.27" fill="#5d8bc9"/>
<rect x="265.00" y="329.03" width="5.65" height="8.27" fill="#5d8bc9"/>
<rect x="271.30" y="329.03" width="5.65" height="8.27" fill="#5d8bc9"/>
<rect x="277.60" y="329.03" width="5.65" height="8.27" fill="#5d8bc9"/>
<rect x="205.90" y="282.20" width="79.75" height="55.10" fill="none" stroke="#d6d6d6" stroke-width="1.0"/>
<rect x="205.90" y="275.90" width="79.75" height="6.00" fill="#d7d7d7" stroke="#b8b8b8" stroke-width="0.6"/>
<text x="245.78" y="280.45" font-size="4.2" text-anchor="middle" font-weight="bold" fill="#222" textLength="36.21" lengthAdjust="spacingAndGlyphs">Molecular Function</text>
<line x1="211.13" x2="211.13" y1="337.30" y2="338.30" stroke="#444" stroke-width="0.4"/>
<text x="213.63" y="340.90" font-size="4.27" text-anchor="end" font-weight="bold" fill="#333" textLength="61.80" lengthAdjust="spacingAndGlyphs" transform="rotate(-60 213.63 340.90)" stroke="#333" stroke-width="0.22">scavenger receptor activity</text>
<line x1="217.43" x2="217.43" y1="337.30" y2="338.30" stroke="#444" stroke-width="0.4"/>
<text x="219.93" y="340.90" font-size="4.27" text-anchor="end" font-weight="bold" fill="#333" textLength="58.00" lengthAdjust="spacingAndGlyphs" transform="rotate(-60 219.93 340.90)" stroke="#333" stroke-width="0.22">transcription factor binding</text>
<line x1="223.73" x2="223.73" y1="337.30" y2="338.30" stroke="#444" stroke-width="0.4"/>
<text x="226.23" y="340.90" font-size="4.27" text-anchor="end" font-weight="bold" fill="#333" textLength="90.80" lengthAdjust="spacingAndGlyphs" transform="rotate(-60 226.23 340.90)" stroke="#333" stroke-width="0.22">DNA binding transcription factor activity</text>
<line x1="230.03" x2="230.03" y1="337.30" y2="338.30" stroke="#444" stroke-width="0.4"/>
<text x="232.53" y="340.90" font-size="4.27" text-anchor="end" font-weight="bold" fill="#333" textLength="125.00" lengthAdjust="spacingAndGlyphs" transform="rotate(-60 232.53 340.90)" stroke="#333" stroke-width="0.22">hydrolase activity, hydrolyzing N-glycosyl compounds</text>
<line x1="236.33" x2="236.33" y1="337.30" y2="338.30" stroke="#444" stroke-width="0.4"/>
<text x="238.83" y="340.90" font-size="4.27" text-anchor="end" font-weight="bold" fill="#333" textLength="94.60" lengthAdjust="spacingAndGlyphs" transform="rotate(-60 238.83 340.90)" stroke="#333" stroke-width="0.22">aminoacylphosphatidylglycerol hydrolase activity</text>
<line x1="242.63" x2="242.63" y1="337.30" y2="338.30" stroke="#444" stroke-width="0.4"/>
<text x="245.13" y="340.90" font-size="4.27" text-anchor="end" font-weight="bold" fill="#333" textLength="37.90" lengthAdjust="spacingAndGlyphs" transform="rotate(-60 245.13 340.90)" stroke="#333" stroke-width="0.22">JUN kinase activity</text>
<line x1="248.93" x2="248.93" y1="337.30" y2="338.30" stroke="#444" stroke-width="0.4"/>
<text x="251.43" y="340.90" font-size="4.27" text-anchor="end" font-weight="bold" fill="#333" textLength="175.00" lengthAdjust="spacingAndGlyphs" transform="rotate(-60 251.43 340.90)" stroke="#333" stroke-width="0.22">cysteine-type endopeptidase activator activity involved in apoptotic process</text>
<line x1="255.23" x2="255.23" y1="337.30" y2="338.30" stroke="#444" stroke-width="0.4"/>
<text x="257.73" y="340.90" font-size="4.27" text-anchor="end" font-weight="bold" fill="#333" textLength="75.00" lengthAdjust="spacingAndGlyphs" transform="rotate(-60 257.73 340.90)" stroke="#333" stroke-width="0.22">glutathione transferase activity</text>
<line x1="261.53" x2="261.53" y1="337.30" y2="338.30" stroke="#444" stroke-width="0.4"/>
<text x="264.03" y="340.90" font-size="4.27" text-anchor="end" font-weight="bold" fill="#333" textLength="146.00" lengthAdjust="spacingAndGlyphs" transform="rotate(-60 264.03 340.90)" stroke="#333" stroke-width="0.22">phosphatidylinositol-3,4-bisphosphate 4-phosphatase activity</text>
<line x1="267.83" x2="267.83" y1="337.30" y2="338.30" stroke="#444" stroke-width="0.4"/>
<text x="270.33" y="340.90" font-size="4.27" text-anchor="end" font-weight="bold" fill="#333" textLength="66.90" lengthAdjust="spacingAndGlyphs" transform="rotate(-60 270.33 340.90)" stroke="#333" stroke-width="0.22">alpha-mannosidase activity</text>
<line x1="274.12" x2="274.12" y1="337.30" y2="338.30" stroke="#444" stroke-width="0.4"/>
<text x="276.62" y="340.90" font-size="4.27" text-anchor="end" font-weight="bold" fill="#333" textLength="130.00" lengthAdjust="spacingAndGlyphs" transform="rotate(-60 276.62 340.90)" stroke="#333" stroke-width="0.22">mitogen-activated protein kinase kinase binding</text>
<line x1="280.43" x2="280.43" y1="337.30" y2="338.30" stroke="#444" stroke-width="0.4"/>
<text x="282.93" y="340.90" font-size="4.27" text-anchor="end" font-weight="bold" fill="#333" textLength="70.50" lengthAdjust="spacingAndGlyphs" transform="rotate(-60 282.93 340.90)" stroke="#333" stroke-width="0.22">palmitoyl-CoA oxidase activity</text>
<text x="35.80" y="338.80" font-size="4.2" text-anchor="end" font-weight="bold" fill="#333" stroke="#333" stroke-width="0.1">0</text>
<line x1="36.30" x2="37.30" y1="337.30" y2="337.30" stroke="#444" stroke-width="0.4"/>
<text x="35.80" y="330.53" font-size="4.2" text-anchor="end" font-weight="bold" fill="#333" stroke="#333" stroke-width="0.1">1</text>
<line x1="36.30" x2="37.30" y1="329.03" y2="329.03" stroke="#444" stroke-width="0.4"/>
<text x="35.80" y="322.26" font-size="4.2" text-anchor="end" font-weight="bold" fill="#333" stroke="#333" stroke-width="0.1">2</text>
<line x1="36.30" x2="37.30" y1="320.76" y2="320.76" stroke="#444" stroke-width="0.4"/>
<text x="35.80" y="313.99" font-size="4.2" text-anchor="end" font-weight="bold" fill="#333" stroke="#333" stroke-width="0.1">3</text>
<line x1="36.30" x2="37.30" y1="312.49" y2="312.49" stroke="#444" stroke-width="0.4"/>
<text x="35.80" y="305.72" font-size="4.2" text-anchor="end" font-weight="bold" fill="#333" stroke="#333" stroke-width="0.1">4</text>
<line x1="36.30" x2="37.30" y1="304.22" y2="304.22" stroke="#444" stroke-width="0.4"/>
<text x="35.80" y="297.45" font-size="4.2" text-anchor="end" font-weight="bold" fill="#333" stroke="#333" stroke-width="0.1">5</text>
<line x1="36.30" x2="37.30" y1="295.95" y2="295.95" stroke="#444" stroke-width="0.4"/>
<text x="35.80" y="289.18" font-size="4.2" text-anchor="end" font-weight="bold" fill="#333" stroke="#333" stroke-width="0.1">6</text>
<line x1="36.30" x2="37.30" y1="287.68" y2="287.68" stroke="#444" stroke-width="0.4"/>
<text x="28.00" y="310.40" font-size="5.86" text-anchor="middle" font-weight="bold" fill="#000" transform="rotate(-90 28.00 310.40)">Number Of Genes</text>
<text x="161.30" y="501.50" font-size="6.6" text-anchor="middle" font-weight="bold" fill="#000" textLength="24.40" lengthAdjust="spacingAndGlyphs">GO Term</text>
<text x="9.90" y="519.40" font-size="8.3" text-anchor="start" font-weight="bold" fill="#000" font-family='Liberation Serif, serif'>C</text>
<text x="161.00" y="518.00" font-size="6.6" text-anchor="middle" font-weight="bold" fill="#000" textLength="19.20" lengthAdjust="spacingAndGlyphs">S vs. P</text>
<text x="166.00" y="528.90" font-size="6.6" text-anchor="middle" font-weight="bold" fill="#000" textLength="61.70" lengthAdjust="spacingAndGlyphs">GO Enrichment BarPlot</text>
<rect x="46.00" y="539.90" width="97.70" height="95.50" fill="#fff"/>
<line x1="46.00" x2="143.70" y1="624.90" y2="624.90" stroke="#f5f5f5" stroke-width="0.5"/>
<line x1="46.00" x2="143.70" y1="614.40" y2="614.40" stroke="#ebebeb" stroke-width="0.5"/>
<line x1="46.00" x2="143.70" y1="603.90" y2="603.90" stroke="#f5f5f5" stroke-width="0.5"/>
<line x1="46.00" x2="143.70" y1="593.40" y2="593.40" stroke="#ebebeb" stroke-width="0.5"/>
<line x1="46.00" x2="143.70" y1="582.90" y2="582.90" stroke="#f5f5f5" stroke-width="0.5"/>
<line x1="46.00" x2="143.70" y1="572.40" y2="572.40" stroke="#ebebeb" stroke-width="0.5"/>
<line x1="46.00" x2="143.70" y1="561.90" y2="561.90" stroke="#f5f5f5" stroke-width="0.5"/>
<line x1="46.00" x2="143.70" y1="551.40" y2="551.40" stroke="#ebebeb" stroke-width="0.5"/>
<line x1="46.00" x2="143.70" y1="540.90" y2="540.90" stroke="#f5f5f5" stroke-width="0.5"/>
<line x1="51.10" x2="51.10" y1="539.90" y2="635.40" stroke="#ebebeb" stroke-width="0.5"/>
<line x1="57.35" x2="57.35" y1="539.90" y2="635.40" stroke="#ebebeb" stroke-width="0.5"/>
<line x1="63.60" x2="63.60" y1="539.90" y2="635.40" stroke="#ebebeb" stroke-width="0.5"/>
<line x1="69.85" x2="69.85" y1="539.90" y2="635.40" stroke="#ebebeb" stroke-width="0.5"/>
<line x1="76.10" x2="76.10" y1="539.90" y2="635.40" stroke="#ebebeb" stroke-width="0.5"/>
<line x1="82.35" x2="82.35" y1="539.90" y2="635.40" stroke="#ebebeb" stroke-width="0.5"/>
<line x1="88.60" x2="88.60" y1="539.90" y2="635.40" stroke="#ebebeb" stroke-width="0.5"/>
<line x1="94.85" x2="94.85" y1="539.90" y2="635.40" stroke="#ebebeb" stroke-width="0.5"/>
<line x1="101.10" x2="101.10" y1="539.90" y2="635.40" stroke="#ebebeb" stroke-width="0.5"/>
<line x1="107.35" x2="107.35" y1="539.90" y2="635.40" stroke="#ebebeb" stroke-width="0.5"/>
<line x1="113.60" x2="113.60" y1="539.90" y2="635.40" stroke="#ebebeb" stroke-width="0.5"/>
<line x1="119.85" x2="119.85" y1="539.90" y2="635.40" stroke="#ebebeb" stroke-width="0.5"/>
<line x1="126.10" x2="126.10" y1="539.90" y2="635.40" stroke="#ebebeb" stroke-width="0.5"/>
<line x1="132.35" x2="132.35" y1="539.90" y2="635.40" stroke="#ebebeb" stroke-width="0.5"/>
<line x1="138.60" x2="138.60" y1="539.90" y2="635.40" stroke="#ebebeb" stroke-width="0.5"/>
<rect x="48.30" y="572.40" width="5.60" height="63.00" fill="#c4425a"/>
<rect x="54.55" y="593.40" width="5.60" height="42.00" fill="#c4425a"/>
<rect x="60.80" y="593.40" width="5.60" height="42.00" fill="#c4425a"/>
<rect x="67.05" y="593.40" width="5.60" height="42.00" fill="#c4425a"/>
<rect x="73.30" y="593.40" width="5.60" height="42.00" fill="#c4425a"/>
<rect x="79.55" y="614.40" width="5.60" height="21.00" fill="#c4425a"/>
<rect x="85.80" y="614.40" width="5.60" height="21.00" fill="#c4425a"/>
<rect x="92.05" y="614.40" width="5.60" height="21.00" fill="#c4425a"/>
<rect x="98.30" y="614.40" width="5.60" height="21.00" fill="#c4425a"/>
<rect x="104.55" y="614.40" width="5.60" height="21.00" fill="#c4425a"/>
<rect x="110.80" y="614.40" width="5.60" height="21.00" fill="#c4425a"/>
<rect x="117.05" y="614.40" width="5.60" height="21.00" fill="#c4425a"/>
<rect x="123.30" y="614.40" width="5.60" height="21.00" fill="#c4425a"/>
<rect x="129.55" y="614.40" width="5.60" height="21.00" fill="#c4425a"/>
<rect x="135.80" y="614.40" width="5.60" height="21.00" fill="#c4425a"/>
<rect x="46.00" y="539.90" width="97.70" height="95.50" fill="none" stroke="#d6d6d6" stroke-width="1.0"/>
<rect x="46.00" y="534.40" width="97.70" height="5.20" fill="#d7d7d7" stroke="#b8b8b8" stroke-width="0.6"/>
<text x="94.85" y="538.55" font-size="4.2" text-anchor="middle" font-weight="bold" fill="#222" textLength="35.34" lengthAdjust="spacingAndGlyphs">Biological Process</text>
<line x1="51.10" x2="51.10" y1="635.40" y2="636.40" stroke="#444" stroke-width="0.4"/>
<text x="53.60" y="639.00" font-size="4.27" text-anchor="end" font-weight="bold" fill="#333" textLength="28.50" lengthAdjust="spacingAndGlyphs" transform="rotate(-60 53.60 639.00)" stroke="#333" stroke-width="0.22">cell adhesion</text>
<line x1="57.35" x2="57.35" y1="635.40" y2="636.40" stroke="#444" stroke-width="0.4"/>
<text x="59.85" y="639.00" font-size="4.27" text-anchor="end" font-weight="bold" fill="#333" textLength="67.30" lengthAdjust="spacingAndGlyphs" transform="rotate(-60 59.85 639.00)" stroke="#333" stroke-width="0.22">glycogen biosynthetic process</text>
<line x1="63.60" x2="63.60" y1="635.40" y2="636.40" stroke="#444" stroke-width="0.4"/>
<text x="66.10" y="639.00" font-size="4.27" text-anchor="end" font-weight="bold" fill="#333" textLength="69.40" lengthAdjust="spacingAndGlyphs" transform="rotate(-60 66.10 639.00)" stroke="#333" stroke-width="0.22">carbohydrate metabolic process</text>
<line x1="69.85" x2="69.85" y1="635.40" y2="636.40" stroke="#444" stroke-width="0.4"/>
<text x="72.35" y="639.00" font-size="4.27" text-anchor="end" font-weight="bold" fill="#333" textLength="30.60" lengthAdjust="spacingAndGlyphs" transform="rotate(-60 72.35 639.00)" stroke="#333" stroke-width="0.22">axon guidance</text>
<line x1="76.10" x2="76.10" y1="635.40" y2="636.40" stroke="#444" stroke-width="0.4"/>
<text x="78.60" y="639.00" font-size="4.27" text-anchor="end" font-weight="bold" fill="#333" textLength="147.10" lengthAdjust="spacingAndGlyphs" transform="rotate(-60 78.60 639.00)" stroke="#333" stroke-width="0.22">homophilic cell adhesion via plasma membrane adhesion molecules</text>
<line x1="82.35" x2="82.35" y1="635.40" y2="636.40" stroke="#444" stroke-width="0.4"/>
<text x="84.85" y="639.00" font-size="4.27" text-anchor="end" font-weight="bold" fill="#333" textLength="144.00" lengthAdjust="spacingAndGlyphs" transform="rotate(-60 84.85 639.00)" stroke="#333" stroke-width="0.22">establishment or maintenance of cell polarity regulating cell shape</text>
<line x1="88.60" x2="88.60" y1="635.40" y2="636.40" stroke="#444" stroke-width="0.4"/>
<text x="91.10" y="639.00" font-size="4.27" text-anchor="end" font-weight="bold" fill="#333" textLength="147.10" lengthAdjust="spacingAndGlyphs" transform="rotate(-60 91.10 639.00)" stroke="#333" stroke-width="0.22">cardiac neural crest cell development involved in heart development</text>
<line x1="94.85" x2="94.85" y1="635.40" y2="636.40" stroke="#444" stroke-width="0.4"/>
<text x="97.35" y="639.00" font-size="4.27" text-anchor="end" font-weight="bold" fill="#333" textLength="92.50" lengthAdjust="spacingAndGlyphs" transform="rotate(-60 97.35 639.00)" stroke="#333" stroke-width="0.22">regulation of cholesterol metabolic process</text>
<line x1="101.10" x2="101.10" y1="635.40" y2="636.40" stroke="#444" stroke-width="0.4"/>
<text x="103.60" y="639.00" font-size="4.27" text-anchor="end" font-weight="bold" fill="#333" textLength="88.30" lengthAdjust="spacingAndGlyphs" transform="rotate(-60 103.60 639.00)" stroke="#333" stroke-width="0.22">negative regulation of insulin secretion process</text>
<line x1="107.35" x2="107.35" y1="635.40" y2="636.40" stroke="#444" stroke-width="0.4"/>
<text x="109.85" y="639.00" font-size="4.27" text-anchor="end" font-weight="bold" fill="#333" textLength="71.60" lengthAdjust="spacingAndGlyphs" transform="rotate(-60 109.85 639.00)" stroke="#333" stroke-width="0.22">UDP-glucose metabolic process</text>
<line x1="113.60" x2="113.60" y1="635.40" y2="636.40" stroke="#444" stroke-width="0.4"/>
<text x="116.10" y="639.00" font-size="4.27" text-anchor="end" font-weight="bold" fill="#333" textLength="27.50" lengthAdjust="spacingAndGlyphs" transform="rotate(-60 116.10 639.00)" stroke="#333" stroke-width="0.22">AMP salvage</text>
<line x1="119.85" x2="119.85" y1="635.40" y2="636.40" stroke="#444" stroke-width="0.4"/>
<text x="122.35" y="639.00" font-size="4.27" text-anchor="end" font-weight="bold" fill="#333" textLength="92.50" lengthAdjust="spacingAndGlyphs" transform="rotate(-60 122.35 639.00)" stroke="#333" stroke-width="0.22">regulation of lipoprotein metabolic process</text>
<line x1="126.10" x2="126.10" y1="635.40" y2="636.40" stroke="#444" stroke-width="0.4"/>
<text x="128.60" y="639.00" font-size="4.27" text-anchor="end" font-weight="bold" fill="#333" textLength="34.80" lengthAdjust="spacingAndGlyphs" transform="rotate(-60 128.60 639.00)" stroke="#333" stroke-width="0.22">virus maturation</text>
<line x1="132.35" x2="132.35" y1="635.40" y2="636.40" stroke="#444" stroke-width="0.4"/>
<text x="134.85" y="639.00" font-size="4.27" text-anchor="end" font-weight="bold" fill="#333" textLength="73.70" lengthAdjust="spacingAndGlyphs" transform="rotate(-60 134.85 639.00)" stroke="#333" stroke-width="0.22">type B pancreatic cell proliferation</text>
<line x1="138.60" x2="138.60" y1="635.40" y2="636.40" stroke="#444" stroke-width="0.4"/>
<text x="141.10" y="639.00" font-size="4.27" text-anchor="end" font-weight="bold" fill="#333" textLength="85.20" lengthAdjust="spacingAndGlyphs" transform="rotate(-60 141.10 639.00)" stroke="#333" stroke-width="0.22">olfactory bulb interneuron development</text>
<rect x="145.10" y="539.90" width="41.45" height="95.50" fill="#fff"/>
<line x1="145.10" x2="186.55" y1="624.90" y2="624.90" stroke="#f5f5f5" stroke-width="0.5"/>
<line x1="145.10" x2="186.55" y1="614.40" y2="614.40" stroke="#ebebeb" stroke-width="0.5"/>
<line x1="145.10" x2="186.55" y1="603.90" y2="603.90" stroke="#f5f5f5" stroke-width="0.5"/>
<line x1="145.10" x2="186.55" y1="593.40" y2="593.40" stroke="#ebebeb" stroke-width="0.5"/>
<line x1="145.10" x2="186.55" y1="582.90" y2="582.90" stroke="#f5f5f5" stroke-width="0.5"/>
<line x1="145.10" x2="186.55" y1="572.40" y2="572.40" stroke="#ebebeb" stroke-width="0.5"/>
<line x1="145.10" x2="186.55" y1="561.90" y2="561.90" stroke="#f5f5f5" stroke-width="0.5"/>
<line x1="145.10" x2="186.55" y1="551.40" y2="551.40" stroke="#ebebeb" stroke-width="0.5"/>
<line x1="145.10" x2="186.55" y1="540.90" y2="540.90" stroke="#f5f5f5" stroke-width="0.5"/>
<line x1="150.20" x2="150.20" y1="539.90" y2="635.40" stroke="#ebebeb" stroke-width="0.5"/>
<line x1="156.45" x2="156.45" y1="539.90" y2="635.40" stroke="#ebebeb" stroke-width="0.5"/>
<line x1="162.70" x2="162.70" y1="539.90" y2="635.40" stroke="#ebebeb" stroke-width="0.5"/>
<line x1="168.95" x2="168.95" y1="539.90" y2="635.40" stroke="#ebebeb" stroke-width="0.5"/>
<line x1="175.20" x2="175.20" y1="539.90" y2="635.40" stroke="#ebebeb" stroke-width="0.5"/>
<line x1="181.45" x2="181.45" y1="539.90" y2="635.40" stroke="#ebebeb" stroke-width="0.5"/>
<rect x="147.40" y="551.40" width="5.60" height="84.00" fill="#f6b298"/>
<rect x="153.65" y="614.40" width="5.60" height="21.00" fill="#f6b298"/>
<rect x="159.90" y="614.40" width="5.60" height="21.00" fill="#f6b298"/>
<rect x="166.15" y="614.40" width="5.60" height="21.00" fill="#f6b298"/>
<rect x="172.40" y="614.40" width="5.60" height="21.00" fill="#f6b298"/>
<rect x="178.65" y="614.40" width="5.60" height="21.00" fill="#f6b298"/>
<rect x="145.10" y="539.90" width="41.45" height="95.50" fill="none" stroke="#d6d6d6" stroke-width="1.0"/>
<rect x="145.10" y="534.40" width="41.45" height="5.20" fill="#d7d7d7" stroke="#b8b8b8" stroke-width="0.6"/>
<text x="165.82" y="538.55" font-size="4.2" text-anchor="middle" font-weight="bold" fill="#222" textLength="37.52" lengthAdjust="spacingAndGlyphs">Cellular Component</text>
<line x1="150.20" x2="150.20" y1="635.40" y2="636.40" stroke="#444" stroke-width="0.4"/>
<text x="152.70" y="639.00" font-size="4.27" text-anchor="end" font-weight="bold" fill="#333" textLength="7.70" lengthAdjust="spacingAndGlyphs" transform="rotate(-60 152.70 639.00)" stroke="#333" stroke-width="0.22">cell</text>
<line x1="156.45" x2="156.45" y1="635.40" y2="636.40" stroke="#444" stroke-width="0.4"/>
<text x="158.95" y="639.00" font-size="4.27" text-anchor="end" font-weight="bold" fill="#333" textLength="47.20" lengthAdjust="spacingAndGlyphs" transform="rotate(-60 158.95 639.00)" stroke="#333" stroke-width="0.22">dendritic growth cone</text>
<line x1="162.70" x2="162.70" y1="635.40" y2="636.40" stroke="#444" stroke-width="0.4"/>
<text x="165.20" y="639.00" font-size="4.27" text-anchor="end" font-weight="bold" fill="#333" textLength="36.30" lengthAdjust="spacingAndGlyphs" transform="rotate(-60 165.20 639.00)" stroke="#333" stroke-width="0.22">ESCRT I complex</text>
<line x1="168.95" x2="168.95" y1="635.40" y2="636.40" stroke="#444" stroke-width="0.4"/>
<text x="171.45" y="639.00" font-size="4.27" text-anchor="end" font-weight="bold" fill="#333" textLength="26.20" lengthAdjust="spacingAndGlyphs" transform="rotate(-60 171.45 639.00)" stroke="#333" stroke-width="0.22">exocyst</text>
<line x1="175.20" x2="175.20" y1="635.40" y2="636.40" stroke="#444" stroke-width="0.4"/>
<text x="177.70" y="639.00" font-size="4.27" text-anchor="end" font-weight="bold" fill="#333" textLength="101.70" lengthAdjust="spacingAndGlyphs" transform="rotate(-60 177.70 639.00)" stroke="#333" stroke-width="0.22">L-type voltage-gated calcium channel complex</text>
<line x1="181.45" x2="181.45" y1="635.40" y2="636.40" stroke="#444" stroke-width="0.4"/>
<text x="183.95" y="639.00" font-size="4.27" text-anchor="end" font-weight="bold" fill="#333" textLength="27.80" lengthAdjust="spacingAndGlyphs" transform="rotate(-60 183.95 639.00)" stroke="#333" stroke-width="0.22">neuron spine</text>
<rect x="187.95" y="539.90" width="97.70" height="95.50" fill="#fff"/>
<line x1="187.95" x2="285.65" y1="624.90" y2="624.90" stroke="#f5f5f5" stroke-width="0.5"/>
<line x1="187.95" x2="285.65" y1="614.40" y2="614.40" stroke="#ebebeb" stroke-width="0.5"/>
<line x1="187.95" x2="285.65" y1="603.90" y2="603.90" stroke="#f5f5f5" stroke-width="0.5"/>
<line x1="187.95" x2="285.65" y1="593.40" y2="593.40" stroke="#ebebeb" stroke-width="0.5"/>
<line x1="187.95" x2="285.65" y1="582.90" y2="582.90" stroke="#f5f5f5" stroke-width="0.5"/>
<line x1="187.95" x2="285.65" y1="572.40" y2="572.40" stroke="#ebebeb" stroke-width="0.5"/>
<line x1="187.95" x2="285.65" y1="561.90" y2="561.90" stroke="#f5f5f5" stroke-width="0.5"/>
<line x1="187.95" x2="285.65" y1="551.40" y2="551.40" stroke="#ebebeb" stroke-width="0.5"/>
<line x1="187.95" x2="285.65" y1="540.90" y2="540.90" stroke="#f5f5f5" stroke-width="0.5"/>
<line x1="193.05" x2="193.05" y1="539.90" y2="635.40" stroke="#ebebeb" stroke-width="0.5"/>
<line x1="199.30" x2="199.30" y1="539.90" y2="635.40" stroke="#ebebeb" stroke-width="0.5"/>
<line x1="205.55" x2="205.55" y1="539.90" y2="635.40" stroke="#ebebeb" stroke-width="0.5"/>
<line x1="211.80" x2="211.80" y1="539.90" y2="635.40" stroke="#ebebeb" stroke-width="0.5"/>
<line x1="218.05" x2="218.05" y1="539.90" y2="635.40" stroke="#ebebeb" stroke-width="0.5"/>
<line x1="224.30" x2="224.30" y1="539.90" y2="635.40" stroke="#ebebeb" stroke-width="0.5"/>
<line x1="230.55" x2="230.55" y1="539.90" y2="635.40" stroke="#ebebeb" stroke-width="0.5"/>
<line x1="236.80" x2="236.80" y1="539.90" y2="635.40" stroke="#ebebeb" stroke-width="0.5"/>
<line x1="243.05" x2="243.05" y1="539.90" y2="635.40" stroke="#ebebeb" stroke-width="0.5"/>
<line x1="249.30" x2="249.30" y1="539.90" y2="635.40" stroke="#ebebeb" stroke-width="0.5"/>
<line x1="255.55" x2="255.55" y1="539.90" y2="635.40" stroke="#ebebeb" stroke-width="0.5"/>
<line x1="261.80" x2="261.80" y1="539.90" y2="635.40" stroke="#ebebeb" stroke-width="0.5"/>
<line x1="268.05" x2="268.05" y1="539.90" y2="635.40" stroke="#ebebeb" stroke-width="0.5"/>
<line x1="274.30" x2="274.30" y1="539.90" y2="635.40" stroke="#ebebeb" stroke-width="0.5"/>
<line x1="280.55" x2="280.55" y1="539.90" y2="635.40" stroke="#ebebeb" stroke-width="0.5"/>
<rect x="190.25" y="614.40" width="5.60" height="21.00" fill="#5d8bc9"/>
<rect x="196.50" y="614.40" width="5.60" height="21.00" fill="#5d8bc9"/>
<rect x="202.75" y="614.40" width="5.60" height="21.00" fill="#5d8bc9"/>
<rect x="209.00" y="614.40" width="5.60" height="21.00" fill="#5d8bc9"/>
<rect x="215.25" y="614.40" width="5.60" height="21.00" fill="#5d8bc9"/>
<rect x="221.50" y="614.40" width="5.60" height="21.00" fill="#5d8bc9"/>
<rect x="227.75" y="614.40" width="5.60" height="21.00" fill="#5d8bc9"/>
<rect x="234.00" y="614.40" width="5.60" height="21.00" fill="#5d8bc9"/>
<rect x="240.25" y="614.40" width="5.60" height="21.00" fill="#5d8bc9"/>
<rect x="246.50" y="614.40" width="5.60" height="21.00" fill="#5d8bc9"/>
<rect x="252.75" y="614.40" width="5.60" height="21.00" fill="#5d8bc9"/>
<rect x="259.00" y="614.40" width="5.60" height="21.00" fill="#5d8bc9"/>
<rect x="265.25" y="614.40" width="5.60" height="21.00" fill="#5d8bc9"/>
<rect x="271.50" y="614.40" width="5.60" height="21.00" fill="#5d8bc9"/>
<rect x="277.75" y="614.40" width="5.60" height="21.00" fill="#5d8bc9"/>
<rect x="187.95" y="539.90" width="97.70" height="95.50" fill="none" stroke="#d6d6d6" stroke-width="1.0"/>
<rect x="187.95" y="534.40" width="97.70" height="5.20" fill="#d7d7d7" stroke="#b8b8b8" stroke-width="0.6"/>
<text x="236.80" y="538.55" font-size="4.2" text-anchor="middle" font-weight="bold" fill="#222" textLength="36.21" lengthAdjust="spacingAndGlyphs">Molecular Function</text>
<line x1="193.05" x2="193.05" y1="635.40" y2="636.40" stroke="#444" stroke-width="0.4"/>
<text x="195.55" y="639.00" font-size="4.27" text-anchor="end" font-weight="bold" fill="#333" textLength="95.80" lengthAdjust="spacingAndGlyphs" transform="rotate(-60 195.55 639.00)" stroke="#333" stroke-width="0.22">holo-[acyl-carrier-protein] synthase activity</text>
<line x1="199.30" x2="199.30" y1="635.40" y2="636.40" stroke="#444" stroke-width="0.4"/>
<text x="201.80" y="639.00" font-size="4.27" text-anchor="end" font-weight="bold" fill="#333" textLength="125.00" lengthAdjust="spacingAndGlyphs" transform="rotate(-60 201.80 639.00)" stroke="#333" stroke-width="0.22">3-hydroxyacyl-[acyl-carrier-protein] dehydratase activity</text>
<line x1="205.55" x2="205.55" y1="635.40" y2="636.40" stroke="#444" stroke-width="0.4"/>
<text x="208.05" y="639.00" font-size="4.27" text-anchor="end" font-weight="bold" fill="#333" textLength="95.80" lengthAdjust="spacingAndGlyphs" transform="rotate(-60 208.05 639.00)" stroke="#333" stroke-width="0.22">1,4-alpha-glucan branching enzyme activity</text>
<line x1="211.80" x2="211.80" y1="635.40" y2="636.40" stroke="#444" stroke-width="0.4"/>
<text x="214.30" y="639.00" font-size="4.27" text-anchor="end" font-weight="bold" fill="#333" textLength="112.80" lengthAdjust="spacingAndGlyphs" transform="rotate(-60 214.30 639.00)" stroke="#333" stroke-width="0.22">[acyl-carrier-protein] S-malonyltransferase activity</text>
<line x1="218.05" x2="218.05" y1="635.40" y2="636.40" stroke="#444" stroke-width="0.4"/>
<text x="220.55" y="639.00" font-size="4.27" text-anchor="end" font-weight="bold" fill="#333" textLength="145.80" lengthAdjust="spacingAndGlyphs" transform="rotate(-60 220.55 639.00)" stroke="#333" stroke-width="0.22">enoyl-[acyl-carrier-protein] reductase (NADPH, B-specific) activity</text>
<line x1="224.30" x2="224.30" y1="635.40" y2="636.40" stroke="#444" stroke-width="0.4"/>
<text x="226.80" y="639.00" font-size="4.27" text-anchor="end" font-weight="bold" fill="#333" textLength="97.80" lengthAdjust="spacingAndGlyphs" transform="rotate(-60 226.80 639.00)" stroke="#333" stroke-width="0.22">oleoyl-[acyl-carrier-protein] hydrolase activity</text>
<line x1="230.55" x2="230.55" y1="635.40" y2="636.40" stroke="#444" stroke-width="0.4"/>
<text x="233.05" y="639.00" font-size="4.27" text-anchor="end" font-weight="bold" fill="#333" textLength="102.80" lengthAdjust="spacingAndGlyphs" transform="rotate(-60 233.05 639.00)" stroke="#333" stroke-width="0.22">3-oxoacyl-[acyl-carrier-protein] synthase activity</text>
<line x1="236.80" x2="236.80" y1="635.40" y2="636.40" stroke="#444" stroke-width="0.4"/>
<text x="239.30" y="639.00" font-size="4.27" text-anchor="end" font-weight="bold" fill="#333" textLength="105.80" lengthAdjust="spacingAndGlyphs" transform="rotate(-60 239.30 639.00)" stroke="#333" stroke-width="0.22">UTP-glucose-1-phosphate uridylyltransferase activity</text>
<line x1="243.05" x2="243.05" y1="635.40" y2="636.40" stroke="#444" stroke-width="0.4"/>
<text x="245.55" y="639.00" font-size="4.27" text-anchor="end" font-weight="bold" fill="#333" textLength="116.90" lengthAdjust="spacingAndGlyphs" transform="rotate(-60 245.55 639.00)" stroke="#333" stroke-width="0.22">3-oxoacyl-[acyl-carrier-protein] reductase (NADPH) activity</text>
<line x1="249.30" x2="249.30" y1="635.40" y2="636.40" stroke="#444" stroke-width="0.4"/>
<text x="251.80" y="639.00" font-size="4.27" text-anchor="end" font-weight="bold" fill="#333" textLength="104.60" lengthAdjust="spacingAndGlyphs" transform="rotate(-60 251.80 639.00)" stroke="#333" stroke-width="0.22">glucose-1-phosphate adenylyltransferase activity</text>
<line x1="255.55" x2="255.55" y1="635.40" y2="636.40" stroke="#444" stroke-width="0.4"/>
<text x="258.05" y="639.00" font-size="4.27" text-anchor="end" font-weight="bold" fill="#333" textLength="135.80" lengthAdjust="spacingAndGlyphs" transform="rotate(-60 258.05 639.00)" stroke="#333" stroke-width="0.22">3-hydroxydecanoyl-[acyl-carrier-protein] dehydratase activity</text>
<line x1="261.80" x2="261.80" y1="635.40" y2="636.40" stroke="#444" stroke-width="0.4"/>
<text x="264.30" y="639.00" font-size="4.27" text-anchor="end" font-weight="bold" fill="#333" textLength="71.60" lengthAdjust="spacingAndGlyphs" transform="rotate(-60 264.30 639.00)" stroke="#333" stroke-width="0.22">L-leucine binding activity</text>
<line x1="268.05" x2="268.05" y1="635.40" y2="636.40" stroke="#444" stroke-width="0.4"/>
<text x="270.55" y="639.00" font-size="4.27" text-anchor="end" font-weight="bold" fill="#333" textLength="62.70" lengthAdjust="spacingAndGlyphs" transform="rotate(-60 270.55 639.00)" stroke="#333" stroke-width="0.22">glycerol kinase activity</text>
<line x1="274.30" x2="274.30" y1="635.40" y2="636.40" stroke="#444" stroke-width="0.4"/>
<text x="276.80" y="639.00" font-size="4.27" text-anchor="end" font-weight="bold" fill="#333" textLength="117.00" lengthAdjust="spacingAndGlyphs" transform="rotate(-60 276.80 639.00)" stroke="#333" stroke-width="0.22">phosphatidylethanolamine binding protein activity</text>
<line x1="280.55" x2="280.55" y1="635.40" y2="636.40" stroke="#444" stroke-width="0.4"/>
<text x="283.05" y="639.00" font-size="4.27" text-anchor="end" font-weight="bold" fill="#333" textLength="123.00" lengthAdjust="spacingAndGlyphs" transform="rotate(-60 283.05 639.00)" stroke="#333" stroke-width="0.22">phosphatidylinositol-4-phosphate binding ligase activity</text>
<text x="44.50" y="636.90" font-size="4.2" text-anchor="end" font-weight="bold" fill="#333" stroke="#333" stroke-width="0.1">0</text>
<line x1="45.00" x2="46.00" y1="635.40" y2="635.40" stroke="#444" stroke-width="0.4"/>
<text x="44.50" y="615.90" font-size="4.2" text-anchor="end" font-weight="bold" fill="#333" stroke="#333" stroke-width="0.1">1</text>
<line x1="45.00" x2="46.00" y1="614.40" y2="614.40" stroke="#444" stroke-width="0.4"/>
<text x="44.50" y="594.90" font-size="4.2" text-anchor="end" font-weight="bold" fill="#333" stroke="#333" stroke-width="0.1">2</text>
<line x1="45.00" x2="46.00" y1="593.40" y2="593.40" stroke="#444" stroke-width="0.4"/>
<text x="44.50" y="573.90" font-size="4.2" text-anchor="end" font-weight="bold" fill="#333" stroke="#333" stroke-width="0.1">3</text>
<line x1="45.00" x2="46.00" y1="572.40" y2="572.40" stroke="#444" stroke-width="0.4"/>
<text x="44.50" y="552.90" font-size="4.2" text-anchor="end" font-weight="bold" fill="#333" stroke="#333" stroke-width="0.1">4</text>
<line x1="45.00" x2="46.00" y1="551.40" y2="551.40" stroke="#444" stroke-width="0.4"/>
<text x="37.50" y="588.20" font-size="5.86" text-anchor="middle" font-weight="bold" fill="#000" transform="rotate(-90 37.50 588.20)">Number Of Genes</text>
<text x="165.20" y="775.20" font-size="6.6" text-anchor="middle" font-weight="bold" fill="#000" textLength="24.40" lengthAdjust="spacingAndGlyphs">GO Term</text>
<text x="293.30" y="9.80" font-size="8.3" text-anchor="start" font-weight="bold" fill="#000" font-family='Liberation Serif, serif'>D</text>
<text x="458.15" y="16.40" font-size="7.1" text-anchor="middle" font-weight="bold" fill="#000" textLength="20.40" lengthAdjust="spacingAndGlyphs">F vs. P</text>
<rect x="428.0" y="23.8" width="60.30" height="135.50" fill="#fff"/>
<line x1="434.55" x2="434.55" y1="23.8" y2="159.3" stroke="#f4f4f4" stroke-width="0.6"/>
<line x1="446.00" x2="446.00" y1="23.8" y2="159.3" stroke="#ececec" stroke-width="0.6"/>
<line x1="457.45" x2="457.45" y1="23.8" y2="159.3" stroke="#f4f4f4" stroke-width="0.6"/>
<line x1="468.90" x2="468.90" y1="23.8" y2="159.3" stroke="#ececec" stroke-width="0.6"/>
<line x1="480.35" x2="480.35" y1="23.8" y2="159.3" stroke="#f4f4f4" stroke-width="0.6"/>
<line x1="428.0" x2="488.3" y1="37.60" y2="37.60" stroke="#ececec" stroke-width="0.6"/>
<line x1="428.0" x2="488.3" y1="49.70" y2="49.70" stroke="#ececec" stroke-width="0.6"/>
<line x1="428.0" x2="488.3" y1="61.60" y2="61.60" stroke="#ececec" stroke-width="0.6"/>
<line x1="428.0" x2="488.3" y1="73.60" y2="73.60" stroke="#ececec" stroke-width="0.6"/>
<line x1="428.0" x2="488.3" y1="85.50" y2="85.50" stroke="#ececec" stroke-width="0.6"/>
<line x1="428.0" x2="488.3" y1="97.50" y2="97.50" stroke="#ececec" stroke-width="0.6"/>
<line x1="428.0" x2="488.3" y1="109.50" y2="109.50" stroke="#ececec" stroke-width="0.6"/>
<line x1="428.0" x2="488.3" y1="121.40" y2="121.40" stroke="#ececec" stroke-width="0.6"/>
<line x1="428.0" x2="488.3" y1="133.40" y2="133.40" stroke="#ececec" stroke-width="0.6"/>
<line x1="428.0" x2="488.3" y1="145.30" y2="145.30" stroke="#ececec" stroke-width="0.6"/>
<circle cx="452.69" cy="37.60" r="1.5" fill="#f3b73a"/>
<text x="426.20" y="40.30" font-size="6.95" text-anchor="end" font-weight="bold" fill="#000" stroke="#000" stroke-width="0.1">Autophagy − other</text>
<line x1="426.7" x2="428.0" y1="37.60" y2="37.60" stroke="#555" stroke-width="0.5"/>
<circle cx="436.70" cy="49.70" r="5.1" fill="#efb24c"/>
<text x="426.20" y="52.40" font-size="6.95" text-anchor="end" font-weight="bold" fill="#000" stroke="#000" stroke-width="0.1">Autophagy − animal</text>
<line x1="426.7" x2="428.0" y1="49.70" y2="49.70" stroke="#555" stroke-width="0.5"/>
<circle cx="457.68" cy="61.60" r="1.5" fill="#ec9f3e"/>
<text x="426.20" y="64.30" font-size="6.95" text-anchor="end" font-weight="bold" fill="#000" stroke="#000" stroke-width="0.1">Starch and sucrose metabolism</text>
<line x1="426.7" x2="428.0" y1="61.60" y2="61.60" stroke="#555" stroke-width="0.5"/>
<circle cx="440.32" cy="73.60" r="5.1" fill="#d86768"/>
<text x="426.20" y="76.30" font-size="6.95" text-anchor="end" font-weight="bold" fill="#000" stroke="#000" stroke-width="0.1">FoxO signaling pathway</text>
<line x1="426.7" x2="428.0" y1="73.60" y2="73.60" stroke="#555" stroke-width="0.5"/>
<circle cx="440.14" cy="85.50" r="5.1" fill="#d7656a"/>
<text x="426.20" y="88.20" font-size="6.95" text-anchor="end" font-weight="bold" fill="#000" stroke="#000" stroke-width="0.1">Insulin signaling pathway</text>
<line x1="426.7" x2="428.0" y1="85.50" y2="85.50" stroke="#555" stroke-width="0.5"/>
<circle cx="441.33" cy="97.50" r="5.1" fill="#d05e6e"/>
<text x="426.20" y="100.20" font-size="6.95" text-anchor="end" font-weight="bold" fill="#000" stroke="#000" stroke-width="0.1">NOD−like receptor signaling pathway</text>
<line x1="426.7" x2="428.0" y1="97.50" y2="97.50" stroke="#555" stroke-width="0.5"/>
<circle cx="479.07" cy="109.50" r="1.5" fill="#c8334f"/>
<text x="426.20" y="112.20" font-size="6.95" text-anchor="end" font-weight="bold" fill="#000" stroke="#000" stroke-width="0.1">Fatty acid biosynthesis</text>
<line x1="426.7" x2="428.0" y1="109.50" y2="109.50" stroke="#555" stroke-width="0.5"/>
<circle cx="443.98" cy="121.40" r="5.1" fill="#b84f74"/>
<text x="426.20" y="124.10" font-size="6.95" text-anchor="end" font-weight="bold" fill="#000" stroke="#000" stroke-width="0.1">Tight junction</text>
<line x1="426.7" x2="428.0" y1="121.40" y2="121.40" stroke="#555" stroke-width="0.5"/>
<circle cx="457.68" cy="133.40" r="5.1" fill="#6b2d75"/>
<text x="426.20" y="136.10" font-size="6.95" text-anchor="end" font-weight="bold" fill="#000" stroke="#000" stroke-width="0.1">Mitophagy − animal</text>
<line x1="426.7" x2="428.0" y1="133.40" y2="133.40" stroke="#555" stroke-width="0.5"/>
<circle cx="473.34" cy="145.30" r="5.1" fill="#41276a"/>
<text x="426.20" y="148.00" font-size="6.95" text-anchor="end" font-weight="bold" fill="#000" stroke="#000" stroke-width="0.1">Propanoate metabolism</text>
<line x1="426.7" x2="428.0" y1="145.30" y2="145.30" stroke="#555" stroke-width="0.5"/>
<rect x="428.0" y="23.8" width="60.30" height="135.50" fill="none" stroke="#d0d0d0" stroke-width="0.8"/>
<line x1="446.00" x2="446.00" y1="159.3" y2="160.60000000000002" stroke="#555" stroke-width="0.5"/>
<text x="446.80" y="167.40" font-size="7.0" text-anchor="middle" font-weight="bold" fill="#222">0.05</text>
<line x1="468.90" x2="468.90" y1="159.3" y2="160.60000000000002" stroke="#555" stroke-width="0.5"/>
<text x="469.70" y="167.40" font-size="7.0" text-anchor="middle" font-weight="bold" fill="#222">0.10</text>
<text x="458.15" y="180.30" font-size="8.35" text-anchor="middle" font-weight="bold" fill="#111">Rich Factor</text>
<text x="295.90" y="91.30" font-size="8.6" text-anchor="middle" font-weight="bold" fill="#111" transform="rotate(-90 295.90 91.30)">KEGG Term</text>
<text x="495.30" y="38.90" font-size="7.7" text-anchor="start" font-weight="bold" fill="#111">Gene Number</text>
<circle cx="501.1" cy="51.1" r="1.3" fill="#2b2b2b"/>
<text x="512.00" y="53.70" font-size="7.4" text-anchor="start" font-weight="bold" fill="#111">1.00</text>
<circle cx="501.1" cy="58.3" r="2.2" fill="#2b2b2b"/>
<text x="512.00" y="60.90" font-size="7.4" text-anchor="start" font-weight="bold" fill="#111">1.25</text>
<circle cx="501.1" cy="65.8" r="3.05" fill="#2b2b2b"/>
<text x="512.00" y="68.40" font-size="7.4" text-anchor="start" font-weight="bold" fill="#111">1.50</text>
<circle cx="501.1" cy="75.4" r="4.1" fill="#2b2b2b"/>
<text x="512.00" y="78.00" font-size="7.4" text-anchor="start" font-weight="bold" fill="#111">1.75</text>
<circle cx="501.1" cy="87.3" r="4.95" fill="#2b2b2b"/>
<text x="512.00" y="89.90" font-size="7.4" text-anchor="start" font-weight="bold" fill="#111">2.00</text>
<text x="495.3" y="108.9" font-size="7.5" font-weight="bold" fill="#111"><tspan font-style="italic">p</tspan> Value</text>
<rect x="495.0" y="117.8" width="6.20" height="33.20" fill="url(#cg)"/>
<text x="505.10" y="120.70" font-size="7.5" text-anchor="start" font-weight="bold" fill="#111">0.1329</text>
<text x="505.10" y="137.10" font-size="7.5" text-anchor="start" font-weight="bold" fill="#111">0.0723</text>
<text x="505.10" y="153.50" font-size="7.5" text-anchor="start" font-weight="bold" fill="#111">0.0117</text>
<text x="296.80" y="261.30" font-size="8.3" text-anchor="start" font-weight="bold" fill="#000" font-family='Liberation Serif, serif'>E</text>
<text x="471.45" y="262.20" font-size="7.1" text-anchor="middle" font-weight="bold" fill="#000" textLength="20.40" lengthAdjust="spacingAndGlyphs">S vs. F</text>
<rect x="454.5" y="269.0" width="33.90" height="135.20" fill="#fff"/>
<line x1="456.10" x2="456.10" y1="269.0" y2="404.2" stroke="#ececec" stroke-width="0.6"/>
<line x1="461.43" x2="461.43" y1="269.0" y2="404.2" stroke="#f4f4f4" stroke-width="0.6"/>
<line x1="466.75" x2="466.75" y1="269.0" y2="404.2" stroke="#ececec" stroke-width="0.6"/>
<line x1="472.08" x2="472.08" y1="269.0" y2="404.2" stroke="#f4f4f4" stroke-width="0.6"/>
<line x1="477.40" x2="477.40" y1="269.0" y2="404.2" stroke="#ececec" stroke-width="0.6"/>
<line x1="482.73" x2="482.73" y1="269.0" y2="404.2" stroke="#f4f4f4" stroke-width="0.6"/>
<line x1="454.5" x2="488.4" y1="283.40" y2="283.40" stroke="#ececec" stroke-width="0.6"/>
<line x1="454.5" x2="488.4" y1="295.20" y2="295.20" stroke="#ececec" stroke-width="0.6"/>
<line x1="454.5" x2="488.4" y1="307.20" y2="307.20" stroke="#ececec" stroke-width="0.6"/>
<line x1="454.5" x2="488.4" y1="319.00" y2="319.00" stroke="#ececec" stroke-width="0.6"/>
<line x1="454.5" x2="488.4" y1="330.80" y2="330.80" stroke="#ececec" stroke-width="0.6"/>
<line x1="454.5" x2="488.4" y1="342.80" y2="342.80" stroke="#ececec" stroke-width="0.6"/>
<line x1="454.5" x2="488.4" y1="354.90" y2="354.90" stroke="#ececec" stroke-width="0.6"/>
<line x1="454.5" x2="488.4" y1="366.80" y2="366.80" stroke="#ececec" stroke-width="0.6"/>
<line x1="454.5" x2="488.4" y1="378.60" y2="378.60" stroke="#ececec" stroke-width="0.6"/>
<line x1="454.5" x2="488.4" y1="390.70" y2="390.70" stroke="#ececec" stroke-width="0.6"/>
<circle cx="467.81" cy="283.40" r="1.4" fill="#f5bb34"/>
<text x="452.70" y="286.10" font-size="6.95" text-anchor="end" font-weight="bold" fill="#000" stroke="#000" stroke-width="0.1">N−Glycan biosynthesis</text>
<line x1="453.2" x2="454.5" y1="283.40" y2="283.40" stroke="#555" stroke-width="0.5"/>
<circle cx="468.24" cy="295.20" r="1.4" fill="#f5b834"/>
<text x="452.70" y="297.90" font-size="6.95" text-anchor="end" font-weight="bold" fill="#000" stroke="#000" stroke-width="0.1">Basal transcription factors</text>
<line x1="453.2" x2="454.5" y1="295.20" y2="295.20" stroke="#555" stroke-width="0.5"/>
<circle cx="468.24" cy="307.20" r="1.4" fill="#f4b534"/>
<text x="452.70" y="309.90" font-size="6.95" text-anchor="end" font-weight="bold" fill="#000" stroke="#000" stroke-width="0.1">Fatty acid degradation</text>
<line x1="453.2" x2="454.5" y1="307.20" y2="307.20" stroke="#555" stroke-width="0.5"/>
<circle cx="468.24" cy="319.00" r="1.4" fill="#f3b236"/>
<text x="452.70" y="321.70" font-size="6.95" text-anchor="end" font-weight="bold" fill="#000" stroke="#000" stroke-width="0.1">Alanine, aspartate and glutamate metabolism</text>
<line x1="453.2" x2="454.5" y1="319.00" y2="319.00" stroke="#555" stroke-width="0.5"/>
<circle cx="468.24" cy="330.80" r="1.4" fill="#f2ad38"/>
<text x="452.70" y="333.50" font-size="6.95" text-anchor="end" font-weight="bold" fill="#000" stroke="#000" stroke-width="0.1">Various types of N−glycan biosynthesis</text>
<line x1="453.2" x2="454.5" y1="330.80" y2="330.80" stroke="#555" stroke-width="0.5"/>
<circle cx="469.63" cy="342.80" r="1.5" fill="#ef9a3e"/>
<text x="452.70" y="345.50" font-size="6.95" text-anchor="end" font-weight="bold" fill="#000" stroke="#000" stroke-width="0.1">Biosynthesis of unsaturated fatty acids</text>
<line x1="453.2" x2="454.5" y1="342.80" y2="342.80" stroke="#555" stroke-width="0.5"/>
<circle cx="471.59" cy="354.90" r="1.6" fill="#e67848"/>
<text x="452.70" y="357.60" font-size="6.95" text-anchor="end" font-weight="bold" fill="#000" stroke="#000" stroke-width="0.1">beta−Alanine metabolism</text>
<line x1="453.2" x2="454.5" y1="354.90" y2="354.90" stroke="#555" stroke-width="0.5"/>
<circle cx="483.04" cy="366.80" r="1.6" fill="#b8305e"/>
<text x="452.70" y="369.50" font-size="6.95" text-anchor="end" font-weight="bold" fill="#000" stroke="#000" stroke-width="0.1">alpha−Linolenic acid metabolism</text>
<line x1="453.2" x2="454.5" y1="366.80" y2="366.80" stroke="#555" stroke-width="0.5"/>
<circle cx="459.85" cy="378.60" r="5.1" fill="#a23f6e"/>
<text x="452.70" y="381.30" font-size="6.95" text-anchor="end" font-weight="bold" fill="#000" stroke="#000" stroke-width="0.1">Metabolic pathways</text>
<line x1="453.2" x2="454.5" y1="378.60" y2="378.60" stroke="#555" stroke-width="0.5"/>
<circle cx="477.51" cy="390.70" r="2.3" fill="#3b2278"/>
<text x="452.70" y="393.40" font-size="6.95" text-anchor="end" font-weight="bold" fill="#000" stroke="#000" stroke-width="0.1">Propanoate metabolism</text>
<line x1="453.2" x2="454.5" y1="390.70" y2="390.70" stroke="#555" stroke-width="0.5"/>
<rect x="454.5" y="269.0" width="33.90" height="135.20" fill="none" stroke="#d0d0d0" stroke-width="0.8"/>
<line x1="456.10" x2="456.10" y1="404.2" y2="405.5" stroke="#555" stroke-width="0.5"/>
<text x="456.10" y="410.40" font-size="5.0" text-anchor="middle" font-weight="bold" fill="#222" textLength="8.70" lengthAdjust="spacingAndGlyphs" stroke="#222" stroke-width="0.15">0.00</text>
<line x1="466.75" x2="466.75" y1="404.2" y2="405.5" stroke="#555" stroke-width="0.5"/>
<text x="466.75" y="410.40" font-size="5.0" text-anchor="middle" font-weight="bold" fill="#222" textLength="8.70" lengthAdjust="spacingAndGlyphs" stroke="#222" stroke-width="0.15">0.05</text>
<line x1="477.40" x2="477.40" y1="404.2" y2="405.5" stroke="#555" stroke-width="0.5"/>
<text x="477.40" y="410.40" font-size="5.0" text-anchor="middle" font-weight="bold" fill="#222" textLength="8.70" lengthAdjust="spacingAndGlyphs" stroke="#222" stroke-width="0.15">0.10</text>
<line x1="488.05" x2="488.05" y1="404.2" y2="405.5" stroke="#555" stroke-width="0.5"/>
<text x="488.05" y="410.40" font-size="5.0" text-anchor="middle" font-weight="bold" fill="#222" textLength="8.70" lengthAdjust="spacingAndGlyphs" stroke="#222" stroke-width="0.15">0.15</text>
<text x="471.45" y="425.60" font-size="8.35" text-anchor="middle" font-weight="bold" fill="#111">Rich Factor</text>
<text x="295.90" y="337.20" font-size="8.6" text-anchor="middle" font-weight="bold" fill="#111" transform="rotate(-90 295.90 337.20)">KEGG Term</text>
<text x="495.00" y="283.80" font-size="7.7" text-anchor="start" font-weight="bold" fill="#111">Gene Number</text>
<circle cx="501.3" cy="296.4" r="1.1" fill="#2b2b2b"/>
<text x="512.00" y="299.00" font-size="7.4" text-anchor="start" font-weight="bold" fill="#111">1</text>
<circle cx="501.3" cy="303.6" r="2.1" fill="#2b2b2b"/>
<text x="512.00" y="306.20" font-size="7.4" text-anchor="start" font-weight="bold" fill="#111">2</text>
<circle cx="501.3" cy="311.0" r="2.8" fill="#2b2b2b"/>
<text x="512.00" y="313.60" font-size="7.4" text-anchor="start" font-weight="bold" fill="#111">3</text>
<circle cx="501.3" cy="321.5" r="3.7" fill="#2b2b2b"/>
<text x="512.00" y="324.10" font-size="7.4" text-anchor="start" font-weight="bold" fill="#111">4</text>
<circle cx="501.3" cy="333.1" r="5.0" fill="#2b2b2b"/>
<text x="512.00" y="335.70" font-size="7.4" text-anchor="start" font-weight="bold" fill="#111">5</text>
<text x="495.0" y="354.9" font-size="7.5" font-weight="bold" fill="#111"><tspan font-style="italic">p</tspan> Value</text>
<rect x="495.3" y="363.3" width="5.80" height="32.70" fill="url(#cg)"/>
<text x="505.00" y="366.30" font-size="7.5" text-anchor="start" font-weight="bold" fill="#111">0.0720</text>
<text x="505.00" y="382.30" font-size="7.5" text-anchor="start" font-weight="bold" fill="#111">0.0371</text>
<text x="505.00" y="398.90" font-size="7.5" text-anchor="start" font-weight="bold" fill="#111">0.0022</text>
<text x="300.20" y="518.80" font-size="8.3" text-anchor="start" font-weight="bold" fill="#000" font-family='Liberation Serif, serif'>F</text>
<text x="451.50" y="519.70" font-size="7.1" text-anchor="middle" font-weight="bold" fill="#000" textLength="21.20" lengthAdjust="spacingAndGlyphs">S vs. P</text>
<rect x="412.8" y="526.4" width="77.40" height="136.00" fill="#fff"/>
<line x1="417.70" x2="417.70" y1="526.4" y2="662.4" stroke="#f4f4f4" stroke-width="0.6"/>
<line x1="433.30" x2="433.30" y1="526.4" y2="662.4" stroke="#ececec" stroke-width="0.6"/>
<line x1="448.90" x2="448.90" y1="526.4" y2="662.4" stroke="#f4f4f4" stroke-width="0.6"/>
<line x1="464.50" x2="464.50" y1="526.4" y2="662.4" stroke="#ececec" stroke-width="0.6"/>
<line x1="480.10" x2="480.10" y1="526.4" y2="662.4" stroke="#f4f4f4" stroke-width="0.6"/>
<line x1="412.8" x2="490.2" y1="540.80" y2="540.80" stroke="#ececec" stroke-width="0.6"/>
<line x1="412.8" x2="490.2" y1="552.80" y2="552.80" stroke="#ececec" stroke-width="0.6"/>
<line x1="412.8" x2="490.2" y1="564.80" y2="564.80" stroke="#ececec" stroke-width="0.6"/>
<line x1="412.8" x2="490.2" y1="576.80" y2="576.80" stroke="#ececec" stroke-width="0.6"/>
<line x1="412.8" x2="490.2" y1="588.80" y2="588.80" stroke="#ececec" stroke-width="0.6"/>
<line x1="412.8" x2="490.2" y1="600.70" y2="600.70" stroke="#ececec" stroke-width="0.6"/>
<line x1="412.8" x2="490.2" y1="612.60" y2="612.60" stroke="#ececec" stroke-width="0.6"/>
<line x1="412.8" x2="490.2" y1="624.50" y2="624.50" stroke="#ececec" stroke-width="0.6"/>
<line x1="412.8" x2="490.2" y1="636.40" y2="636.40" stroke="#ececec" stroke-width="0.6"/>
<line x1="412.8" x2="490.2" y1="648.30" y2="648.30" stroke="#ececec" stroke-width="0.6"/>
<circle cx="432.40" cy="540.80" r="1.3" fill="#f6c233"/>
<text x="411.00" y="543.50" font-size="6.95" text-anchor="end" font-weight="bold" fill="#000" stroke="#000" stroke-width="0.1">Pyruvate metabolism</text>
<line x1="411.5" x2="412.8" y1="540.80" y2="540.80" stroke="#555" stroke-width="0.5"/>
<circle cx="436.01" cy="552.80" r="1.6" fill="#f0a444"/>
<text x="411.00" y="555.50" font-size="6.95" text-anchor="end" font-weight="bold" fill="#000" stroke="#000" stroke-width="0.1">Sphingolipid metabolism</text>
<line x1="411.5" x2="412.8" y1="552.80" y2="552.80" stroke="#555" stroke-width="0.5"/>
<circle cx="424.69" cy="564.80" r="3.3" fill="#e08a62"/>
<text x="411.00" y="567.50" font-size="6.95" text-anchor="end" font-weight="bold" fill="#000" stroke="#000" stroke-width="0.1">Purine metabolism</text>
<line x1="411.5" x2="412.8" y1="564.80" y2="564.80" stroke="#555" stroke-width="0.5"/>
<circle cx="438.10" cy="576.80" r="1.5" fill="#e87a4a"/>
<text x="411.00" y="579.50" font-size="6.95" text-anchor="end" font-weight="bold" fill="#000" stroke="#000" stroke-width="0.1">Basal transcription factors</text>
<line x1="411.5" x2="412.8" y1="576.80" y2="576.80" stroke="#555" stroke-width="0.5"/>
<circle cx="433.49" cy="588.80" r="3.3" fill="#8e2a6c"/>
<text x="411.00" y="591.50" font-size="6.95" text-anchor="end" font-weight="bold" fill="#000" stroke="#000" stroke-width="0.1">Fatty acid metabolism</text>
<line x1="411.5" x2="412.8" y1="588.80" y2="588.80" stroke="#555" stroke-width="0.5"/>
<circle cx="464.50" cy="600.70" r="1.3" fill="#93235f"/>
<text x="411.00" y="603.40" font-size="6.95" text-anchor="end" font-weight="bold" fill="#000" stroke="#000" stroke-width="0.1">Galactose metabolism</text>
<line x1="411.5" x2="412.8" y1="600.70" y2="600.70" stroke="#555" stroke-width="0.5"/>
<circle cx="426.00" cy="612.60" r="5.2" fill="#8a2a68"/>
<text x="411.00" y="615.30" font-size="6.95" text-anchor="end" font-weight="bold" fill="#000" stroke="#000" stroke-width="0.1">FoxO signaling pathway</text>
<line x1="411.5" x2="412.8" y1="612.60" y2="612.60" stroke="#555" stroke-width="0.5"/>
<circle cx="480.69" cy="624.50" r="1.3" fill="#6c1e62"/>
<text x="411.00" y="627.20" font-size="6.95" text-anchor="end" font-weight="bold" fill="#000" stroke="#000" stroke-width="0.1">Fatty acid biosynthesis</text>
<line x1="411.5" x2="412.8" y1="624.50" y2="624.50" stroke="#555" stroke-width="0.5"/>
<circle cx="453.21" cy="636.40" r="3.3" fill="#4a2272"/>
<text x="411.00" y="639.10" font-size="6.95" text-anchor="end" font-weight="bold" fill="#000" stroke="#000" stroke-width="0.1">Propanoate metabolism</text>
<line x1="411.5" x2="412.8" y1="636.40" y2="636.40" stroke="#555" stroke-width="0.5"/>
<circle cx="473.80" cy="648.30" r="3.3" fill="#3a2270"/>
<text x="411.00" y="651.00" font-size="6.95" text-anchor="end" font-weight="bold" fill="#000" stroke="#000" stroke-width="0.1">Starch and sucrose metabolism</text>
<line x1="411.5" x2="412.8" y1="648.30" y2="648.30" stroke="#555" stroke-width="0.5"/>
<rect x="412.8" y="526.4" width="77.40" height="136.00" fill="none" stroke="#d0d0d0" stroke-width="0.8"/>
<line x1="433.30" x2="433.30" y1="662.4" y2="663.6999999999999" stroke="#555" stroke-width="0.5"/>
<text x="433.30" y="670.70" font-size="7.0" text-anchor="middle" font-weight="bold" fill="#222">0.1</text>
<line x1="464.50" x2="464.50" y1="662.4" y2="663.6999999999999" stroke="#555" stroke-width="0.5"/>
<text x="464.50" y="670.70" font-size="7.0" text-anchor="middle" font-weight="bold" fill="#222">0.2</text>
<text x="451.50" y="683.00" font-size="8.35" text-anchor="middle" font-weight="bold" fill="#111">Rich Factor</text>
<text x="297.30" y="594.80" font-size="8.6" text-anchor="middle" font-weight="bold" fill="#111" transform="rotate(-90 297.30 594.80)">KEGG Term</text>
<text x="497.00" y="542.00" font-size="7.7" text-anchor="start" font-weight="bold" fill="#111">Gene Number</text>
<circle cx="503.7" cy="554.7" r="1.1" fill="#2b2b2b"/>
<text x="514.00" y="557.30" font-size="7.4" text-anchor="start" font-weight="bold" fill="#111">2.0</text>
<circle cx="503.7" cy="561.4" r="1.8" fill="#2b2b2b"/>
<text x="514.00" y="564.00" font-size="7.4" text-anchor="start" font-weight="bold" fill="#111">2.5</text>
<circle cx="503.7" cy="569.2" r="2.6" fill="#2b2b2b"/>
<text x="514.00" y="571.80" font-size="7.4" text-anchor="start" font-weight="bold" fill="#111">3.0</text>
<circle cx="503.7" cy="578.8" r="3.6" fill="#2b2b2b"/>
<text x="514.00" y="581.40" font-size="7.4" text-anchor="start" font-weight="bold" fill="#111">3.5</text>
<circle cx="503.7" cy="591.0" r="4.8" fill="#2b2b2b"/>
<text x="514.00" y="593.60" font-size="7.4" text-anchor="start" font-weight="bold" fill="#111">4.0</text>
<text x="497.0" y="612.3" font-size="7.5" font-weight="bold" fill="#111"><tspan font-style="italic">p</tspan> Value</text>
<rect x="497.0" y="621.2" width="6.70" height="32.80" fill="url(#cg)"/>
<text x="507.60" y="623.90" font-size="7.5" text-anchor="start" font-weight="bold" fill="#111">0.0443</text>
<text x="507.60" y="640.70" font-size="7.5" text-anchor="start" font-weight="bold" fill="#111">0.0227</text>
<text x="507.60" y="657.30" font-size="7.5" text-anchor="start" font-weight="bold" fill="#111">0.0011</text>
</svg>
</body></html>
